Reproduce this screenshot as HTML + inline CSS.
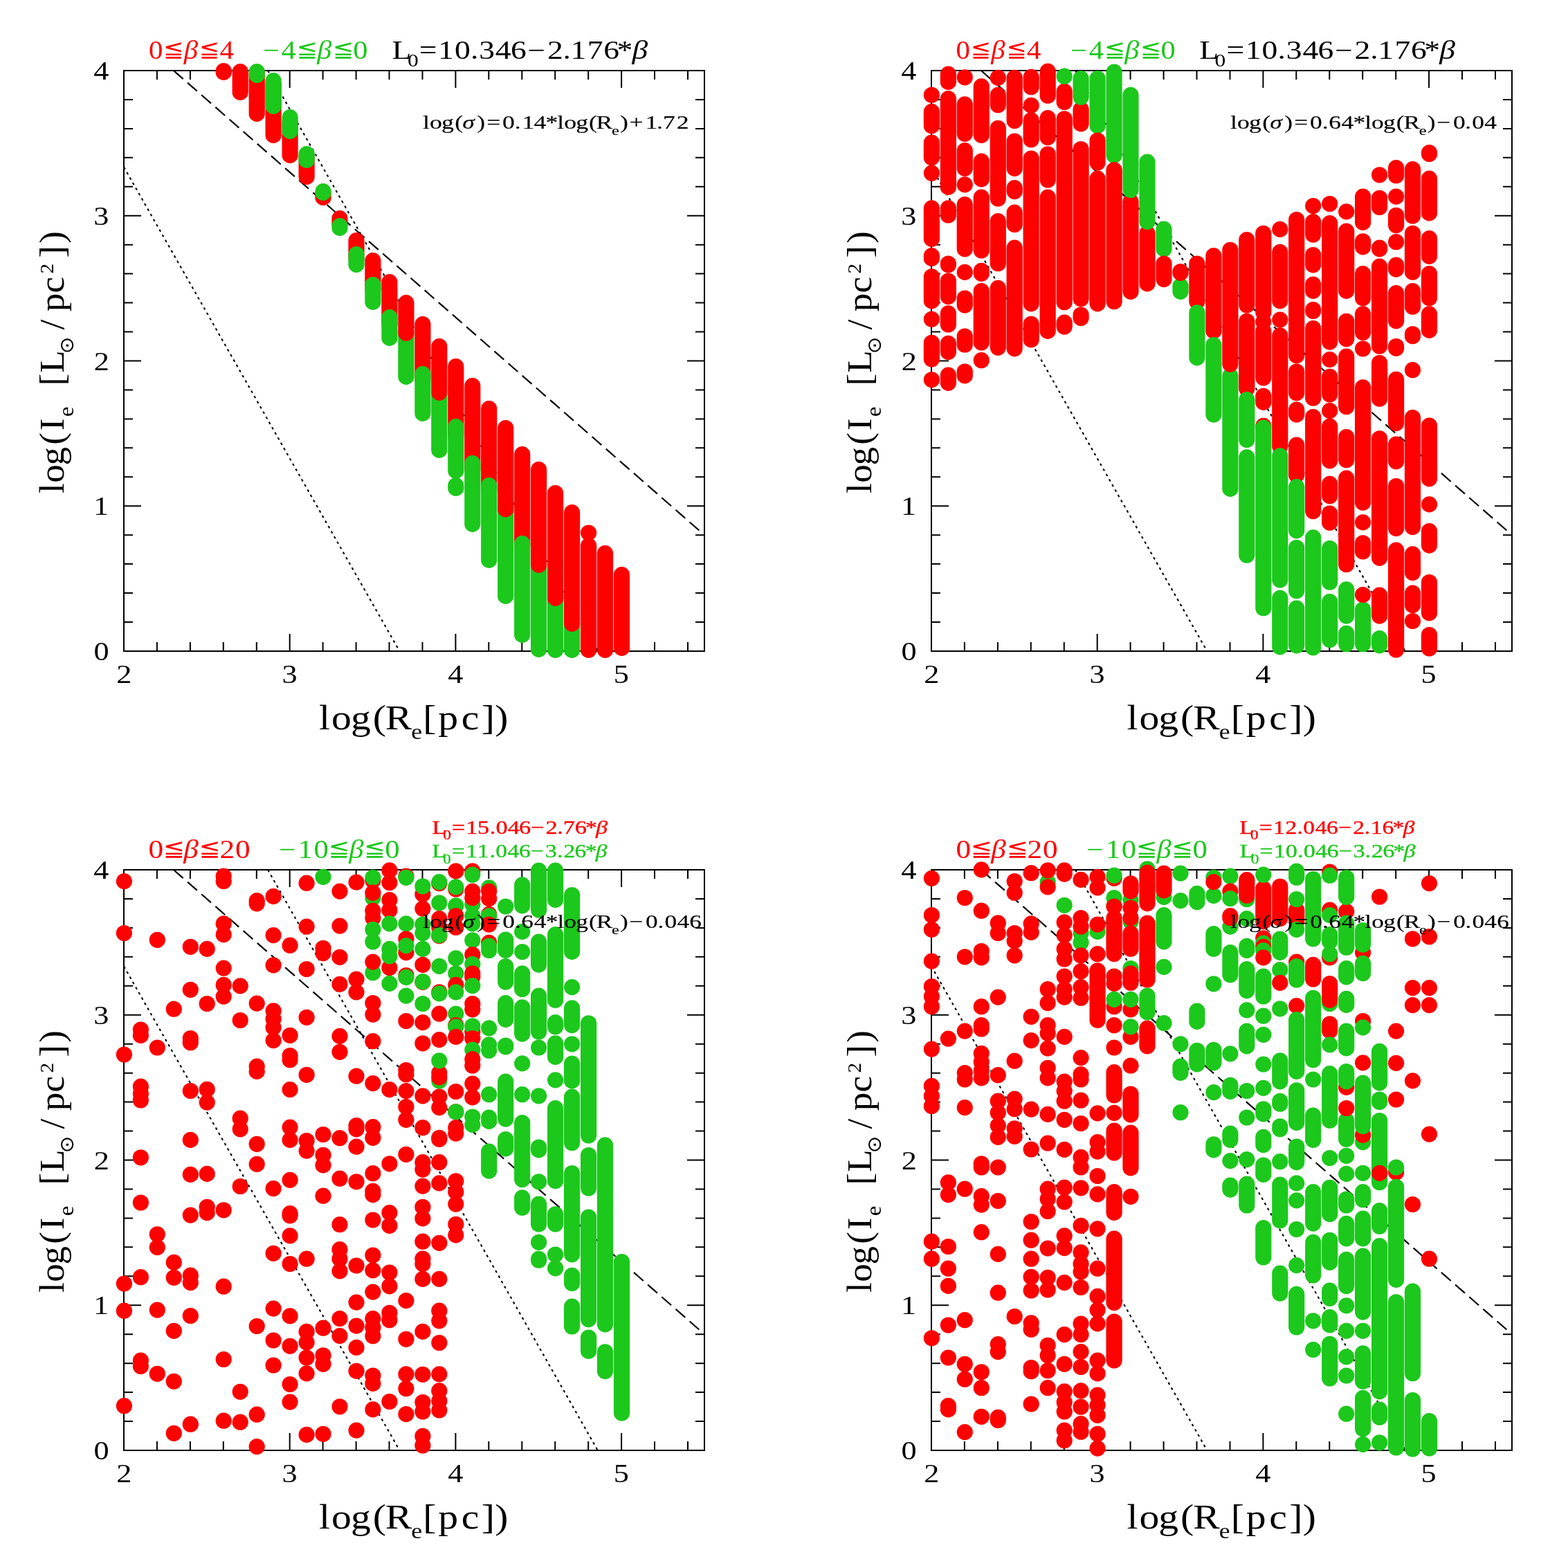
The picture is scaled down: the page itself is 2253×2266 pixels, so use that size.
<!DOCTYPE html>
<html><head><meta charset="utf-8"><title>log(Ie) vs log(Re)</title>
<style>html,body{margin:0;padding:0;background:#fff}svg{display:block}</style></head>
<body>
<svg width="2253" height="2266" viewBox="0 0 2253 2266" font-family="'Liberation Serif', serif" fill="#000">
<rect width="2253" height="2266" fill="#fff"/>
<rect x="179" y="102" width="839" height="839" fill="none" stroke="#000" stroke-width="2"/>
<path d="M179.0 941v-25M179.0 102v25M226.9 941v-13M226.9 102v13M274.9 941v-13M274.9 102v13M322.8 941v-13M322.8 102v13M370.8 941v-13M370.8 102v13M418.7 941v-25M418.7 102v25M466.6 941v-13M466.6 102v13M514.6 941v-13M514.6 102v13M562.5 941v-13M562.5 102v13M610.5 941v-13M610.5 102v13M658.4 941v-25M658.4 102v25M706.3 941v-13M706.3 102v13M754.3 941v-13M754.3 102v13M802.2 941v-13M802.2 102v13M850.2 941v-13M850.2 102v13M898.1 941v-25M898.1 102v25M946.0 941v-13M946.0 102v13M994.0 941v-13M994.0 102v13M179 941.0h25M1018 941.0h-25M179 899.0h13M1018 899.0h-13M179 857.1h13M1018 857.1h-13M179 815.1h13M1018 815.1h-13M179 773.2h13M1018 773.2h-13M179 731.2h25M1018 731.2h-25M179 689.3h13M1018 689.3h-13M179 647.3h13M1018 647.3h-13M179 605.4h13M1018 605.4h-13M179 563.5h13M1018 563.5h-13M179 521.5h25M1018 521.5h-25M179 479.5h13M1018 479.5h-13M179 437.6h13M1018 437.6h-13M179 395.6h13M1018 395.6h-13M179 353.7h13M1018 353.7h-13M179 311.8h25M1018 311.8h-25M179 269.8h13M1018 269.8h-13M179 227.8h13M1018 227.8h-13M179 185.9h13M1018 185.9h-13M179 143.9h13M1018 143.9h-13M179 102.0h25M1018 102.0h-25" fill="none" stroke="#000" stroke-width="2"/>
<text transform="translate(0.0,987.1) scale(1.150,1)" font-size="38.5" x="146.2" y="0.0">2</text>
<text transform="translate(0.0,987.1) scale(1.150,1)" font-size="38.5" x="354.3" y="0.0">3</text>
<text transform="translate(0.0,987.1) scale(1.150,1)" font-size="38.5" x="562.8" y="0.0">4</text>
<text transform="translate(0.0,987.1) scale(1.150,1)" font-size="38.5" x="771.0" y="0.0">5</text>
<text transform="translate(0.0,954.1) scale(1.150,1)" font-size="38.5" x="117.8" y="0.0">0</text>
<text transform="translate(0.0,744.4) scale(1.150,1)" font-size="38.5" x="117.3" y="0.0">1</text>
<text transform="translate(0.0,534.6) scale(1.150,1)" font-size="38.5" x="118.0" y="0.0">2</text>
<text transform="translate(0.0,324.9) scale(1.150,1)" font-size="38.5" x="117.6" y="0.0">3</text>
<text transform="translate(0.0,115.1) scale(1.150,1)" font-size="38.5" x="117.7" y="0.0">4</text>
<line x1="250.9" y1="102.0" x2="1010.8" y2="766.9" stroke="#000" stroke-width="2.2" stroke-dasharray="18.3 8.48"/>
<line x1="179.0" y1="241.5" x2="577.4" y2="941.0" stroke="#000" stroke-width="2.1" stroke-dasharray="3.6 5.05"/>
<line x1="387.1" y1="102.0" x2="863.8" y2="941.0" stroke="#000" stroke-width="2.1" stroke-dasharray="3.6 5.05"/>
<line x1="323.2" y1="102.6" x2="323.2" y2="104.4" stroke="#ff0000" stroke-width="23.2" stroke-linecap="round"/>
<line x1="347.2" y1="103.6" x2="347.2" y2="133.4" stroke="#ff0000" stroke-width="23.2" stroke-linecap="round"/>
<line x1="371.2" y1="106.6" x2="371.2" y2="164.4" stroke="#ff0000" stroke-width="23.2" stroke-linecap="round"/>
<line x1="371.2" y1="103.6" x2="371.2" y2="108.4" stroke="#1cc81c" stroke-width="23.2" stroke-linecap="round"/>
<line x1="395.1" y1="121.6" x2="395.1" y2="195.4" stroke="#ff0000" stroke-width="23.2" stroke-linecap="round"/>
<line x1="395.1" y1="116.6" x2="395.1" y2="153.4" stroke="#1cc81c" stroke-width="23.2" stroke-linecap="round"/>
<line x1="419.1" y1="176.6" x2="419.1" y2="224.4" stroke="#ff0000" stroke-width="23.2" stroke-linecap="round"/>
<line x1="419.1" y1="169.6" x2="419.1" y2="189.4" stroke="#1cc81c" stroke-width="23.2" stroke-linecap="round"/>
<line x1="443.1" y1="226.6" x2="443.1" y2="255.4" stroke="#ff0000" stroke-width="23.2" stroke-linecap="round"/>
<line x1="443.1" y1="222.6" x2="443.1" y2="231.4" stroke="#1cc81c" stroke-width="23.2" stroke-linecap="round"/>
<line x1="467.0" y1="279.6" x2="467.0" y2="285.4" stroke="#ff0000" stroke-width="23.2" stroke-linecap="round"/>
<line x1="467.0" y1="276.6" x2="467.0" y2="278.4" stroke="#1cc81c" stroke-width="23.2" stroke-linecap="round"/>
<line x1="491.0" y1="315.6" x2="491.0" y2="323.4" stroke="#ff0000" stroke-width="23.2" stroke-linecap="round"/>
<line x1="491.0" y1="326.6" x2="491.0" y2="329.4" stroke="#1cc81c" stroke-width="23.2" stroke-linecap="round"/>
<line x1="515.0" y1="347.6" x2="515.0" y2="373.4" stroke="#ff0000" stroke-width="23.2" stroke-linecap="round"/>
<line x1="515.0" y1="367.6" x2="515.0" y2="382.4" stroke="#1cc81c" stroke-width="23.2" stroke-linecap="round"/>
<line x1="538.9" y1="376.6" x2="538.9" y2="418.4" stroke="#ff0000" stroke-width="23.2" stroke-linecap="round"/>
<line x1="538.9" y1="411.6" x2="538.9" y2="436.4" stroke="#1cc81c" stroke-width="23.2" stroke-linecap="round"/>
<line x1="562.9" y1="407.6" x2="562.9" y2="468.4" stroke="#ff0000" stroke-width="23.2" stroke-linecap="round"/>
<line x1="562.9" y1="458.6" x2="562.9" y2="488.4" stroke="#1cc81c" stroke-width="23.2" stroke-linecap="round"/>
<line x1="586.9" y1="481.6" x2="586.9" y2="544.4" stroke="#1cc81c" stroke-width="23.2" stroke-linecap="round"/>
<line x1="586.9" y1="437.6" x2="586.9" y2="481.4" stroke="#ff0000" stroke-width="23.2" stroke-linecap="round"/>
<line x1="610.9" y1="468.6" x2="610.9" y2="548.4" stroke="#ff0000" stroke-width="23.2" stroke-linecap="round"/>
<line x1="610.9" y1="540.6" x2="610.9" y2="597.4" stroke="#1cc81c" stroke-width="23.2" stroke-linecap="round"/>
<line x1="634.8" y1="571.6" x2="634.8" y2="650.4" stroke="#1cc81c" stroke-width="23.2" stroke-linecap="round"/>
<line x1="634.8" y1="500.6" x2="634.8" y2="567.4" stroke="#ff0000" stroke-width="23.2" stroke-linecap="round"/>
<line x1="658.8" y1="529.6" x2="658.8" y2="628.4" stroke="#ff0000" stroke-width="23.2" stroke-linecap="round"/>
<line x1="658.8" y1="616.6" x2="658.8" y2="680.4" stroke="#1cc81c" stroke-width="23.2" stroke-linecap="round"/>
<line x1="658.8" y1="701.6" x2="658.8" y2="705.4" stroke="#1cc81c" stroke-width="23.2" stroke-linecap="round"/>
<line x1="682.8" y1="557.6" x2="682.8" y2="678.4" stroke="#ff0000" stroke-width="23.2" stroke-linecap="round"/>
<line x1="682.8" y1="669.6" x2="682.8" y2="757.4" stroke="#1cc81c" stroke-width="23.2" stroke-linecap="round"/>
<line x1="706.7" y1="590.6" x2="706.7" y2="708.4" stroke="#ff0000" stroke-width="23.2" stroke-linecap="round"/>
<line x1="706.7" y1="701.6" x2="706.7" y2="809.4" stroke="#1cc81c" stroke-width="23.2" stroke-linecap="round"/>
<line x1="730.7" y1="731.6" x2="730.7" y2="861.4" stroke="#1cc81c" stroke-width="23.2" stroke-linecap="round"/>
<line x1="730.7" y1="618.6" x2="730.7" y2="735.9" stroke="#ff0000" stroke-width="23.2" stroke-linecap="round"/>
<line x1="754.7" y1="656.6" x2="754.7" y2="788.4" stroke="#ff0000" stroke-width="23.2" stroke-linecap="round"/>
<line x1="754.7" y1="785.6" x2="754.7" y2="917.4" stroke="#1cc81c" stroke-width="23.2" stroke-linecap="round"/>
<line x1="778.6" y1="811.6" x2="778.6" y2="938.4" stroke="#1cc81c" stroke-width="23.2" stroke-linecap="round"/>
<line x1="778.6" y1="678.6" x2="778.6" y2="816.4" stroke="#ff0000" stroke-width="23.2" stroke-linecap="round"/>
<line x1="802.6" y1="861.6" x2="802.6" y2="939.4" stroke="#1cc81c" stroke-width="23.2" stroke-linecap="round"/>
<line x1="802.6" y1="712.6" x2="802.6" y2="864.4" stroke="#ff0000" stroke-width="23.2" stroke-linecap="round"/>
<line x1="826.6" y1="901.6" x2="826.6" y2="939.4" stroke="#1cc81c" stroke-width="23.2" stroke-linecap="round"/>
<line x1="826.6" y1="740.6" x2="826.6" y2="901.4" stroke="#ff0000" stroke-width="23.2" stroke-linecap="round"/>
<circle cx="850.6" cy="770.0" r="11.6" fill="#ff0000"/>
<line x1="850.6" y1="788.6" x2="850.6" y2="939.4" stroke="#ff0000" stroke-width="23.2" stroke-linecap="round"/>
<line x1="874.5" y1="799.6" x2="874.5" y2="939.4" stroke="#ff0000" stroke-width="23.2" stroke-linecap="round"/>
<line x1="898.5" y1="830.6" x2="898.5" y2="936.4" stroke="#ff0000" stroke-width="23.2" stroke-linecap="round"/>
<text transform="translate(0.0,1053.5) scale(1.154,1)" font-size="50" x="399.4 415.0 439.3 466.8 482.4 514.9 529.7 548.7 577.8 602.9 619.9" y="0.0 0.0 0.0 0.0 0.0 14.0 0.0 0.0 0.0 0.0 0.0">log(R<tspan font-size="31.0">e</tspan>[pc])</text>
<text transform="translate(92.4,711.3) rotate(-90) scale(1.060,1)" font-size="50" x="-1.6 12.9 36.7 64.6 84.0 102.9 145.1 162.8 188.6 221.6 246.4 271.5 298.0 319.4 339.2" y="0.0 0.0 0.0 0.0 0.0 13.8 0.0 0.0 13.8 0.0 0.0 0.0 -15.1 0.0 0.0">log(I<tspan font-size="31.0">e</tspan>[L<tspan font-family="'DejaVu Sans', sans-serif" font-size="27.9">⊙</tspan>/pc<tspan font-size="27.7">2</tspan>])</text>
<rect x="1346" y="102" width="839" height="839" fill="none" stroke="#000" stroke-width="2"/>
<path d="M1346.0 941v-25M1346.0 102v25M1393.9 941v-13M1393.9 102v13M1441.9 941v-13M1441.9 102v13M1489.8 941v-13M1489.8 102v13M1537.8 941v-13M1537.8 102v13M1585.7 941v-25M1585.7 102v25M1633.6 941v-13M1633.6 102v13M1681.6 941v-13M1681.6 102v13M1729.5 941v-13M1729.5 102v13M1777.5 941v-13M1777.5 102v13M1825.4 941v-25M1825.4 102v25M1873.3 941v-13M1873.3 102v13M1921.3 941v-13M1921.3 102v13M1969.2 941v-13M1969.2 102v13M2017.2 941v-13M2017.2 102v13M2065.1 941v-25M2065.1 102v25M2113.0 941v-13M2113.0 102v13M2161.0 941v-13M2161.0 102v13M1346 941.0h25M2185 941.0h-25M1346 899.0h13M2185 899.0h-13M1346 857.1h13M2185 857.1h-13M1346 815.1h13M2185 815.1h-13M1346 773.2h13M2185 773.2h-13M1346 731.2h25M2185 731.2h-25M1346 689.3h13M2185 689.3h-13M1346 647.3h13M2185 647.3h-13M1346 605.4h13M2185 605.4h-13M1346 563.5h13M2185 563.5h-13M1346 521.5h25M2185 521.5h-25M1346 479.5h13M2185 479.5h-13M1346 437.6h13M2185 437.6h-13M1346 395.6h13M2185 395.6h-13M1346 353.7h13M2185 353.7h-13M1346 311.8h25M2185 311.8h-25M1346 269.8h13M2185 269.8h-13M1346 227.8h13M2185 227.8h-13M1346 185.9h13M2185 185.9h-13M1346 143.9h13M2185 143.9h-13M1346 102.0h25M2185 102.0h-25" fill="none" stroke="#000" stroke-width="2"/>
<text transform="translate(0.0,987.1) scale(1.150,1)" font-size="38.5" x="1161.0" y="0.0">2</text>
<text transform="translate(0.0,987.1) scale(1.150,1)" font-size="38.5" x="1369.1" y="0.0">3</text>
<text transform="translate(0.0,987.1) scale(1.150,1)" font-size="38.5" x="1577.6" y="0.0">4</text>
<text transform="translate(0.0,987.1) scale(1.150,1)" font-size="38.5" x="1785.7" y="0.0">5</text>
<text transform="translate(0.0,954.1) scale(1.150,1)" font-size="38.5" x="1132.6" y="0.0">0</text>
<text transform="translate(0.0,744.4) scale(1.150,1)" font-size="38.5" x="1132.1" y="0.0">1</text>
<text transform="translate(0.0,534.6) scale(1.150,1)" font-size="38.5" x="1132.8" y="0.0">2</text>
<text transform="translate(0.0,324.9) scale(1.150,1)" font-size="38.5" x="1132.4" y="0.0">3</text>
<text transform="translate(0.0,115.1) scale(1.150,1)" font-size="38.5" x="1132.5" y="0.0">4</text>
<line x1="1417.9" y1="102.0" x2="2177.8" y2="766.9" stroke="#000" stroke-width="2.2" stroke-dasharray="18.3 8.48"/>
<line x1="1346.0" y1="241.5" x2="1744.4" y2="941.0" stroke="#000" stroke-width="2.1" stroke-dasharray="3.6 5.05"/>
<line x1="1554.1" y1="102.0" x2="2030.8" y2="941.0" stroke="#000" stroke-width="2.1" stroke-dasharray="3.6 5.05"/>
<circle cx="1346.4" cy="137.3" r="11.6" fill="#ff0000"/>
<line x1="1346.4" y1="161.4" x2="1346.4" y2="181.9" stroke="#ff0000" stroke-width="23.2" stroke-linecap="round"/>
<line x1="1346.4" y1="206.1" x2="1346.4" y2="227.7" stroke="#ff0000" stroke-width="23.2" stroke-linecap="round"/>
<circle cx="1346.4" cy="250.2" r="11.6" fill="#ff0000"/>
<line x1="1346.4" y1="300.9" x2="1346.4" y2="345.3" stroke="#ff0000" stroke-width="23.2" stroke-linecap="round"/>
<line x1="1346.4" y1="369.6" x2="1346.4" y2="373.4" stroke="#ff0000" stroke-width="23.2" stroke-linecap="round"/>
<line x1="1346.4" y1="399.8" x2="1346.4" y2="434.9" stroke="#ff0000" stroke-width="23.2" stroke-linecap="round"/>
<circle cx="1346.4" cy="461.3" r="11.6" fill="#ff0000"/>
<line x1="1346.4" y1="495.3" x2="1346.4" y2="519.0" stroke="#ff0000" stroke-width="23.2" stroke-linecap="round"/>
<circle cx="1346.4" cy="548.8" r="11.6" fill="#ff0000"/>
<line x1="1370.4" y1="107.2" x2="1370.4" y2="118.4" stroke="#ff0000" stroke-width="23.2" stroke-linecap="round"/>
<line x1="1370.4" y1="142.6" x2="1370.4" y2="270.4" stroke="#ff0000" stroke-width="23.2" stroke-linecap="round"/>
<line x1="1370.4" y1="300.9" x2="1370.4" y2="311.0" stroke="#ff0000" stroke-width="23.2" stroke-linecap="round"/>
<line x1="1370.4" y1="381.0" x2="1370.4" y2="382.8" stroke="#ff0000" stroke-width="23.2" stroke-linecap="round"/>
<line x1="1370.4" y1="406.0" x2="1370.4" y2="428.6" stroke="#ff0000" stroke-width="23.2" stroke-linecap="round"/>
<line x1="1370.4" y1="452.9" x2="1370.4" y2="469.0" stroke="#ff0000" stroke-width="23.2" stroke-linecap="round"/>
<line x1="1370.4" y1="496.4" x2="1370.4" y2="508.6" stroke="#ff0000" stroke-width="23.2" stroke-linecap="round"/>
<line x1="1370.4" y1="542.2" x2="1370.4" y2="553.3" stroke="#ff0000" stroke-width="23.2" stroke-linecap="round"/>
<circle cx="1394.3" cy="111.8" r="11.6" fill="#ff0000"/>
<line x1="1394.3" y1="150.9" x2="1394.3" y2="193.3" stroke="#ff0000" stroke-width="23.2" stroke-linecap="round"/>
<line x1="1394.3" y1="217.6" x2="1394.3" y2="243.3" stroke="#ff0000" stroke-width="23.2" stroke-linecap="round"/>
<circle cx="1394.3" cy="266.9" r="11.6" fill="#ff0000"/>
<line x1="1394.3" y1="295.7" x2="1394.3" y2="359.9" stroke="#ff0000" stroke-width="23.2" stroke-linecap="round"/>
<circle cx="1394.3" cy="393.4" r="11.6" fill="#ff0000"/>
<line x1="1394.3" y1="431.0" x2="1394.3" y2="441.1" stroke="#ff0000" stroke-width="23.2" stroke-linecap="round"/>
<line x1="1394.3" y1="486.0" x2="1394.3" y2="498.2" stroke="#ff0000" stroke-width="23.2" stroke-linecap="round"/>
<line x1="1394.3" y1="537.0" x2="1394.3" y2="542.9" stroke="#ff0000" stroke-width="23.2" stroke-linecap="round"/>
<line x1="1418.3" y1="124.9" x2="1418.3" y2="195.4" stroke="#ff0000" stroke-width="23.2" stroke-linecap="round"/>
<line x1="1418.3" y1="233.2" x2="1418.3" y2="258.9" stroke="#ff0000" stroke-width="23.2" stroke-linecap="round"/>
<line x1="1418.3" y1="285.2" x2="1418.3" y2="362.0" stroke="#ff0000" stroke-width="23.2" stroke-linecap="round"/>
<line x1="1418.3" y1="391.4" x2="1418.3" y2="395.3" stroke="#ff0000" stroke-width="23.2" stroke-linecap="round"/>
<line x1="1418.3" y1="420.6" x2="1418.3" y2="495.0" stroke="#ff0000" stroke-width="23.2" stroke-linecap="round"/>
<circle cx="1418.3" cy="520.7" r="11.6" fill="#ff0000"/>
<circle cx="1442.3" cy="112.3" r="11.6" fill="#ff0000"/>
<line x1="1442.3" y1="137.4" x2="1442.3" y2="151.7" stroke="#ff0000" stroke-width="23.2" stroke-linecap="round"/>
<line x1="1442.3" y1="185.3" x2="1442.3" y2="287.0" stroke="#ff0000" stroke-width="23.2" stroke-linecap="round"/>
<line x1="1442.3" y1="319.6" x2="1442.3" y2="380.7" stroke="#ff0000" stroke-width="23.2" stroke-linecap="round"/>
<line x1="1442.3" y1="416.4" x2="1442.3" y2="502.3" stroke="#ff0000" stroke-width="23.2" stroke-linecap="round"/>
<line x1="1466.2" y1="112.4" x2="1466.2" y2="174.6" stroke="#ff0000" stroke-width="23.2" stroke-linecap="round"/>
<line x1="1466.2" y1="204.0" x2="1466.2" y2="243.3" stroke="#ff0000" stroke-width="23.2" stroke-linecap="round"/>
<line x1="1466.2" y1="271.7" x2="1466.2" y2="276.6" stroke="#ff0000" stroke-width="23.2" stroke-linecap="round"/>
<line x1="1466.2" y1="307.1" x2="1466.2" y2="324.5" stroke="#ff0000" stroke-width="23.2" stroke-linecap="round"/>
<line x1="1466.2" y1="358.1" x2="1466.2" y2="503.8" stroke="#ff0000" stroke-width="23.2" stroke-linecap="round"/>
<line x1="1490.2" y1="111.4" x2="1490.2" y2="125.7" stroke="#ff0000" stroke-width="23.2" stroke-linecap="round"/>
<circle cx="1490.2" cy="152.4" r="11.6" fill="#ff0000"/>
<line x1="1490.2" y1="173.8" x2="1490.2" y2="201.7" stroke="#ff0000" stroke-width="23.2" stroke-linecap="round"/>
<line x1="1490.2" y1="229.0" x2="1490.2" y2="438.8" stroke="#ff0000" stroke-width="23.2" stroke-linecap="round"/>
<line x1="1490.2" y1="468.3" x2="1490.2" y2="490.9" stroke="#ff0000" stroke-width="23.2" stroke-linecap="round"/>
<line x1="1514.2" y1="103.1" x2="1514.2" y2="138.2" stroke="#ff0000" stroke-width="23.2" stroke-linecap="round"/>
<line x1="1514.2" y1="170.7" x2="1514.2" y2="198.5" stroke="#ff0000" stroke-width="23.2" stroke-linecap="round"/>
<line x1="1514.2" y1="222.8" x2="1514.2" y2="260.0" stroke="#ff0000" stroke-width="23.2" stroke-linecap="round"/>
<line x1="1514.2" y1="285.2" x2="1514.2" y2="478.4" stroke="#ff0000" stroke-width="23.2" stroke-linecap="round"/>
<line x1="1538.2" y1="132.2" x2="1538.2" y2="147.5" stroke="#ff0000" stroke-width="23.2" stroke-linecap="round"/>
<circle cx="1538.2" cy="110.2" r="11.6" fill="#1cc81c"/>
<line x1="1538.2" y1="171.8" x2="1538.2" y2="436.7" stroke="#ff0000" stroke-width="23.2" stroke-linecap="round"/>
<line x1="1538.2" y1="466.2" x2="1538.2" y2="472.1" stroke="#ff0000" stroke-width="23.2" stroke-linecap="round"/>
<line x1="1562.1" y1="158.2" x2="1562.1" y2="178.8" stroke="#ff0000" stroke-width="23.2" stroke-linecap="round"/>
<line x1="1562.1" y1="113.5" x2="1562.1" y2="140.2" stroke="#1cc81c" stroke-width="23.2" stroke-linecap="round"/>
<line x1="1562.1" y1="215.5" x2="1562.1" y2="431.8" stroke="#ff0000" stroke-width="23.2" stroke-linecap="round"/>
<line x1="1562.1" y1="455.0" x2="1562.1" y2="459.6" stroke="#ff0000" stroke-width="23.2" stroke-linecap="round"/>
<line x1="1586.1" y1="113.5" x2="1586.1" y2="181.9" stroke="#1cc81c" stroke-width="23.2" stroke-linecap="round"/>
<line x1="1586.1" y1="203.0" x2="1586.1" y2="235.0" stroke="#ff0000" stroke-width="23.2" stroke-linecap="round"/>
<line x1="1586.1" y1="258.2" x2="1586.1" y2="438.8" stroke="#ff0000" stroke-width="23.2" stroke-linecap="round"/>
<line x1="1610.1" y1="104.1" x2="1610.1" y2="224.6" stroke="#1cc81c" stroke-width="23.2" stroke-linecap="round"/>
<line x1="1610.1" y1="245.7" x2="1610.1" y2="435.7" stroke="#ff0000" stroke-width="23.2" stroke-linecap="round"/>
<line x1="1634.0" y1="291.5" x2="1634.0" y2="421.3" stroke="#ff0000" stroke-width="23.2" stroke-linecap="round"/>
<line x1="1634.0" y1="137.4" x2="1634.0" y2="274.5" stroke="#1cc81c" stroke-width="23.2" stroke-linecap="round"/>
<line x1="1658.0" y1="337.3" x2="1658.0" y2="409.9" stroke="#ff0000" stroke-width="23.2" stroke-linecap="round"/>
<line x1="1658.0" y1="234.2" x2="1658.0" y2="320.4" stroke="#1cc81c" stroke-width="23.2" stroke-linecap="round"/>
<line x1="1682.0" y1="331.1" x2="1682.0" y2="359.9" stroke="#1cc81c" stroke-width="23.2" stroke-linecap="round"/>
<line x1="1682.0" y1="381.0" x2="1682.0" y2="403.6" stroke="#ff0000" stroke-width="23.2" stroke-linecap="round"/>
<line x1="1706.0" y1="413.3" x2="1706.0" y2="421.3" stroke="#1cc81c" stroke-width="23.2" stroke-linecap="round"/>
<line x1="1706.0" y1="392.5" x2="1706.0" y2="394.3" stroke="#ff0000" stroke-width="23.2" stroke-linecap="round"/>
<line x1="1729.9" y1="381.0" x2="1729.9" y2="435.9" stroke="#ff0000" stroke-width="23.2" stroke-linecap="round"/>
<line x1="1729.9" y1="451.8" x2="1729.9" y2="516.9" stroke="#1cc81c" stroke-width="23.2" stroke-linecap="round"/>
<line x1="1753.9" y1="369.6" x2="1753.9" y2="478.4" stroke="#ff0000" stroke-width="23.2" stroke-linecap="round"/>
<line x1="1753.9" y1="498.5" x2="1753.9" y2="599.1" stroke="#1cc81c" stroke-width="23.2" stroke-linecap="round"/>
<line x1="1777.9" y1="543.2" x2="1777.9" y2="706.4" stroke="#1cc81c" stroke-width="23.2" stroke-linecap="round"/>
<line x1="1777.9" y1="361.3" x2="1777.9" y2="526.3" stroke="#ff0000" stroke-width="23.2" stroke-linecap="round"/>
<line x1="1801.8" y1="346.7" x2="1801.8" y2="441.1" stroke="#ff0000" stroke-width="23.2" stroke-linecap="round"/>
<line x1="1801.8" y1="464.3" x2="1801.8" y2="561.7" stroke="#ff0000" stroke-width="23.2" stroke-linecap="round"/>
<line x1="1801.8" y1="577.6" x2="1801.8" y2="635.6" stroke="#1cc81c" stroke-width="23.2" stroke-linecap="round"/>
<line x1="1801.8" y1="660.9" x2="1801.8" y2="802.2" stroke="#1cc81c" stroke-width="23.2" stroke-linecap="round"/>
<line x1="1825.8" y1="337.3" x2="1825.8" y2="451.5" stroke="#ff0000" stroke-width="23.2" stroke-linecap="round"/>
<circle cx="1825.8" cy="465.1" r="11.6" fill="#ff0000"/>
<line x1="1825.8" y1="478.7" x2="1825.8" y2="546.0" stroke="#ff0000" stroke-width="23.2" stroke-linecap="round"/>
<line x1="1825.8" y1="572.4" x2="1825.8" y2="581.4" stroke="#ff0000" stroke-width="23.2" stroke-linecap="round"/>
<circle cx="1825.8" cy="615.4" r="11.6" fill="#ff0000"/>
<line x1="1825.8" y1="618.2" x2="1825.8" y2="878.7" stroke="#1cc81c" stroke-width="23.2" stroke-linecap="round"/>
<circle cx="1849.8" cy="331.4" r="11.6" fill="#ff0000"/>
<line x1="1849.8" y1="364.4" x2="1849.8" y2="434.9" stroke="#ff0000" stroke-width="23.2" stroke-linecap="round"/>
<circle cx="1849.8" cy="462.1" r="11.6" fill="#ff0000"/>
<line x1="1849.8" y1="484.9" x2="1849.8" y2="645.0" stroke="#ff0000" stroke-width="23.2" stroke-linecap="round"/>
<line x1="1849.8" y1="658.8" x2="1849.8" y2="838.1" stroke="#1cc81c" stroke-width="23.2" stroke-linecap="round"/>
<line x1="1849.8" y1="864.4" x2="1849.8" y2="934.9" stroke="#1cc81c" stroke-width="23.2" stroke-linecap="round"/>
<line x1="1873.7" y1="317.5" x2="1873.7" y2="513.8" stroke="#ff0000" stroke-width="23.2" stroke-linecap="round"/>
<line x1="1873.7" y1="537.0" x2="1873.7" y2="567.9" stroke="#ff0000" stroke-width="23.2" stroke-linecap="round"/>
<line x1="1873.7" y1="592.2" x2="1873.7" y2="599.1" stroke="#ff0000" stroke-width="23.2" stroke-linecap="round"/>
<line x1="1873.7" y1="643.2" x2="1873.7" y2="686.6" stroke="#ff0000" stroke-width="23.2" stroke-linecap="round"/>
<line x1="1873.7" y1="703.6" x2="1873.7" y2="766.8" stroke="#1cc81c" stroke-width="23.2" stroke-linecap="round"/>
<line x1="1873.7" y1="791.5" x2="1873.7" y2="853.7" stroke="#1cc81c" stroke-width="23.2" stroke-linecap="round"/>
<line x1="1873.7" y1="879.0" x2="1873.7" y2="932.8" stroke="#1cc81c" stroke-width="23.2" stroke-linecap="round"/>
<circle cx="1897.7" cy="297.6" r="11.6" fill="#ff0000"/>
<line x1="1897.7" y1="320.6" x2="1897.7" y2="339.1" stroke="#ff0000" stroke-width="23.2" stroke-linecap="round"/>
<line x1="1897.7" y1="368.5" x2="1897.7" y2="382.8" stroke="#ff0000" stroke-width="23.2" stroke-linecap="round"/>
<line x1="1897.7" y1="411.2" x2="1897.7" y2="420.3" stroke="#ff0000" stroke-width="23.2" stroke-linecap="round"/>
<line x1="1897.7" y1="447.7" x2="1897.7" y2="449.5" stroke="#ff0000" stroke-width="23.2" stroke-linecap="round"/>
<line x1="1897.7" y1="474.7" x2="1897.7" y2="575.2" stroke="#ff0000" stroke-width="23.2" stroke-linecap="round"/>
<line x1="1897.7" y1="602.6" x2="1897.7" y2="738.7" stroke="#ff0000" stroke-width="23.2" stroke-linecap="round"/>
<line x1="1897.7" y1="776.9" x2="1897.7" y2="935.9" stroke="#1cc81c" stroke-width="23.2" stroke-linecap="round"/>
<circle cx="1921.7" cy="294.5" r="11.6" fill="#ff0000"/>
<line x1="1921.7" y1="322.7" x2="1921.7" y2="494.0" stroke="#ff0000" stroke-width="23.2" stroke-linecap="round"/>
<circle cx="1921.7" cy="519.6" r="11.6" fill="#ff0000"/>
<line x1="1921.7" y1="544.3" x2="1921.7" y2="570.0" stroke="#ff0000" stroke-width="23.2" stroke-linecap="round"/>
<circle cx="1921.7" cy="593.6" r="11.6" fill="#ff0000"/>
<line x1="1921.7" y1="616.1" x2="1921.7" y2="665.8" stroke="#ff0000" stroke-width="23.2" stroke-linecap="round"/>
<line x1="1921.7" y1="699.4" x2="1921.7" y2="716.8" stroke="#ff0000" stroke-width="23.2" stroke-linecap="round"/>
<line x1="1921.7" y1="742.1" x2="1921.7" y2="755.3" stroke="#ff0000" stroke-width="23.2" stroke-linecap="round"/>
<line x1="1921.7" y1="792.5" x2="1921.7" y2="841.2" stroke="#1cc81c" stroke-width="23.2" stroke-linecap="round"/>
<line x1="1921.7" y1="869.6" x2="1921.7" y2="924.5" stroke="#1cc81c" stroke-width="23.2" stroke-linecap="round"/>
<circle cx="1945.7" cy="305.9" r="11.6" fill="#ff0000"/>
<line x1="1945.7" y1="334.2" x2="1945.7" y2="420.3" stroke="#ff0000" stroke-width="23.2" stroke-linecap="round"/>
<line x1="1945.7" y1="464.3" x2="1945.7" y2="489.8" stroke="#ff0000" stroke-width="23.2" stroke-linecap="round"/>
<line x1="1945.7" y1="515.1" x2="1945.7" y2="587.7" stroke="#ff0000" stroke-width="23.2" stroke-linecap="round"/>
<line x1="1945.7" y1="631.7" x2="1945.7" y2="664.7" stroke="#ff0000" stroke-width="23.2" stroke-linecap="round"/>
<line x1="1945.7" y1="691.1" x2="1945.7" y2="815.7" stroke="#ff0000" stroke-width="23.2" stroke-linecap="round"/>
<line x1="1945.7" y1="851.9" x2="1945.7" y2="890.1" stroke="#1cc81c" stroke-width="23.2" stroke-linecap="round"/>
<line x1="1945.7" y1="915.4" x2="1945.7" y2="930.7" stroke="#1cc81c" stroke-width="23.2" stroke-linecap="round"/>
<line x1="1969.6" y1="284.2" x2="1969.6" y2="321.4" stroke="#ff0000" stroke-width="23.2" stroke-linecap="round"/>
<line x1="1969.6" y1="348.8" x2="1969.6" y2="356.8" stroke="#ff0000" stroke-width="23.2" stroke-linecap="round"/>
<line x1="1969.6" y1="395.6" x2="1969.6" y2="430.7" stroke="#ff0000" stroke-width="23.2" stroke-linecap="round"/>
<line x1="1969.6" y1="453.9" x2="1969.6" y2="480.5" stroke="#ff0000" stroke-width="23.2" stroke-linecap="round"/>
<circle cx="1969.6" cy="504.0" r="11.6" fill="#ff0000"/>
<line x1="1969.6" y1="559.9" x2="1969.6" y2="726.2" stroke="#ff0000" stroke-width="23.2" stroke-linecap="round"/>
<circle cx="1969.6" cy="754.9" r="11.6" fill="#ff0000"/>
<line x1="1969.6" y1="784.8" x2="1969.6" y2="797.0" stroke="#ff0000" stroke-width="23.2" stroke-linecap="round"/>
<line x1="1969.6" y1="881.0" x2="1969.6" y2="930.7" stroke="#1cc81c" stroke-width="23.2" stroke-linecap="round"/>
<circle cx="1969.6" cy="859.5" r="11.6" fill="#ff0000"/>
<circle cx="1993.6" cy="252.8" r="11.6" fill="#ff0000"/>
<line x1="1993.6" y1="286.3" x2="1993.6" y2="299.5" stroke="#ff0000" stroke-width="23.2" stroke-linecap="round"/>
<line x1="1993.6" y1="358.1" x2="1993.6" y2="359.9" stroke="#ff0000" stroke-width="23.2" stroke-linecap="round"/>
<line x1="1993.6" y1="385.2" x2="1993.6" y2="500.2" stroke="#ff0000" stroke-width="23.2" stroke-linecap="round"/>
<line x1="1993.6" y1="524.5" x2="1993.6" y2="576.2" stroke="#ff0000" stroke-width="23.2" stroke-linecap="round"/>
<line x1="1993.6" y1="633.8" x2="1993.6" y2="806.3" stroke="#ff0000" stroke-width="23.2" stroke-linecap="round"/>
<line x1="1993.6" y1="860.2" x2="1993.6" y2="890.1" stroke="#ff0000" stroke-width="23.2" stroke-linecap="round"/>
<line x1="1993.6" y1="922.7" x2="1993.6" y2="932.8" stroke="#1cc81c" stroke-width="23.2" stroke-linecap="round"/>
<line x1="2017.6" y1="242.6" x2="2017.6" y2="253.7" stroke="#ff0000" stroke-width="23.2" stroke-linecap="round"/>
<circle cx="2017.6" cy="284.1" r="11.6" fill="#ff0000"/>
<line x1="2017.6" y1="311.3" x2="2017.6" y2="325.6" stroke="#ff0000" stroke-width="23.2" stroke-linecap="round"/>
<circle cx="2017.6" cy="349.7" r="11.6" fill="#ff0000"/>
<line x1="2017.6" y1="383.1" x2="2017.6" y2="389.1" stroke="#ff0000" stroke-width="23.2" stroke-linecap="round"/>
<line x1="2017.6" y1="423.7" x2="2017.6" y2="463.8" stroke="#ff0000" stroke-width="23.2" stroke-linecap="round"/>
<line x1="2017.6" y1="500.5" x2="2017.6" y2="503.4" stroke="#ff0000" stroke-width="23.2" stroke-linecap="round"/>
<line x1="2017.6" y1="548.4" x2="2017.6" y2="611.6" stroke="#ff0000" stroke-width="23.2" stroke-linecap="round"/>
<line x1="2017.6" y1="642.1" x2="2017.6" y2="666.8" stroke="#ff0000" stroke-width="23.2" stroke-linecap="round"/>
<line x1="2017.6" y1="702.5" x2="2017.6" y2="763.6" stroke="#ff0000" stroke-width="23.2" stroke-linecap="round"/>
<line x1="2017.6" y1="795.2" x2="2017.6" y2="939.0" stroke="#ff0000" stroke-width="23.2" stroke-linecap="round"/>
<line x1="2041.5" y1="244.6" x2="2041.5" y2="312.0" stroke="#ff0000" stroke-width="23.2" stroke-linecap="round"/>
<line x1="2041.5" y1="337.3" x2="2041.5" y2="393.2" stroke="#ff0000" stroke-width="23.2" stroke-linecap="round"/>
<line x1="2041.5" y1="420.6" x2="2041.5" y2="443.2" stroke="#ff0000" stroke-width="23.2" stroke-linecap="round"/>
<line x1="2041.5" y1="482.8" x2="2041.5" y2="485.7" stroke="#ff0000" stroke-width="23.2" stroke-linecap="round"/>
<circle cx="2041.5" cy="534.7" r="11.6" fill="#ff0000"/>
<line x1="2041.5" y1="603.6" x2="2041.5" y2="761.6" stroke="#ff0000" stroke-width="23.2" stroke-linecap="round"/>
<line x1="2041.5" y1="800.9" x2="2041.5" y2="827.6" stroke="#ff0000" stroke-width="23.2" stroke-linecap="round"/>
<line x1="2041.5" y1="857.1" x2="2041.5" y2="874.5" stroke="#ff0000" stroke-width="23.2" stroke-linecap="round"/>
<circle cx="2041.5" cy="897.5" r="11.6" fill="#ff0000"/>
<line x1="2065.5" y1="220.7" x2="2065.5" y2="222.5" stroke="#ff0000" stroke-width="23.2" stroke-linecap="round"/>
<line x1="2065.5" y1="258.2" x2="2065.5" y2="307.9" stroke="#ff0000" stroke-width="23.2" stroke-linecap="round"/>
<line x1="2065.5" y1="344.6" x2="2065.5" y2="370.3" stroke="#ff0000" stroke-width="23.2" stroke-linecap="round"/>
<line x1="2065.5" y1="395.6" x2="2065.5" y2="430.7" stroke="#ff0000" stroke-width="23.2" stroke-linecap="round"/>
<line x1="2065.5" y1="453.9" x2="2065.5" y2="477.3" stroke="#ff0000" stroke-width="23.2" stroke-linecap="round"/>
<line x1="2065.5" y1="615.1" x2="2065.5" y2="691.8" stroke="#ff0000" stroke-width="23.2" stroke-linecap="round"/>
<circle cx="2065.5" cy="728.9" r="11.6" fill="#ff0000"/>
<line x1="2065.5" y1="767.6" x2="2065.5" y2="788.1" stroke="#ff0000" stroke-width="23.2" stroke-linecap="round"/>
<line x1="2065.5" y1="841.5" x2="2065.5" y2="885.9" stroke="#ff0000" stroke-width="23.2" stroke-linecap="round"/>
<line x1="2065.5" y1="917.5" x2="2065.5" y2="937.0" stroke="#ff0000" stroke-width="23.2" stroke-linecap="round"/>
<text transform="translate(0.0,1053.5) scale(1.154,1)" font-size="50" x="1411.1 1426.7 1450.9 1478.4 1494.1 1526.6 1541.4 1560.4 1589.5 1614.6 1631.6" y="0.0 0.0 0.0 0.0 0.0 14.0 0.0 0.0 0.0 0.0 0.0">log(R<tspan font-size="31.0">e</tspan>[pc])</text>
<text transform="translate(1259.4,711.3) rotate(-90) scale(1.060,1)" font-size="50" x="-1.6 12.9 36.7 64.6 84.0 102.9 145.1 162.8 188.6 221.6 246.4 271.5 298.0 319.4 339.2" y="0.0 0.0 0.0 0.0 0.0 13.8 0.0 0.0 13.8 0.0 0.0 0.0 -15.1 0.0 0.0">log(I<tspan font-size="31.0">e</tspan>[L<tspan font-family="'DejaVu Sans', sans-serif" font-size="27.9">⊙</tspan>/pc<tspan font-size="27.7">2</tspan>])</text>
<rect x="179" y="1257" width="839" height="839" fill="none" stroke="#000" stroke-width="2"/>
<path d="M179.0 2096v-25M179.0 1257v25M226.9 2096v-13M226.9 1257v13M274.9 2096v-13M274.9 1257v13M322.8 2096v-13M322.8 1257v13M370.8 2096v-13M370.8 1257v13M418.7 2096v-25M418.7 1257v25M466.6 2096v-13M466.6 1257v13M514.6 2096v-13M514.6 1257v13M562.5 2096v-13M562.5 1257v13M610.5 2096v-13M610.5 1257v13M658.4 2096v-25M658.4 1257v25M706.3 2096v-13M706.3 1257v13M754.3 2096v-13M754.3 1257v13M802.2 2096v-13M802.2 1257v13M850.2 2096v-13M850.2 1257v13M898.1 2096v-25M898.1 1257v25M946.0 2096v-13M946.0 1257v13M994.0 2096v-13M994.0 1257v13M179 2096.0h25M1018 2096.0h-25M179 2054.1h13M1018 2054.1h-13M179 2012.1h13M1018 2012.1h-13M179 1970.2h13M1018 1970.2h-13M179 1928.2h13M1018 1928.2h-13M179 1886.2h25M1018 1886.2h-25M179 1844.3h13M1018 1844.3h-13M179 1802.3h13M1018 1802.3h-13M179 1760.4h13M1018 1760.4h-13M179 1718.5h13M1018 1718.5h-13M179 1676.5h25M1018 1676.5h-25M179 1634.5h13M1018 1634.5h-13M179 1592.6h13M1018 1592.6h-13M179 1550.7h13M1018 1550.7h-13M179 1508.7h13M1018 1508.7h-13M179 1466.8h25M1018 1466.8h-25M179 1424.8h13M1018 1424.8h-13M179 1382.8h13M1018 1382.8h-13M179 1340.9h13M1018 1340.9h-13M179 1299.0h13M1018 1299.0h-13M179 1257.0h25M1018 1257.0h-25" fill="none" stroke="#000" stroke-width="2"/>
<text transform="translate(0.0,2142.1) scale(1.150,1)" font-size="38.5" x="146.2" y="0.0">2</text>
<text transform="translate(0.0,2142.1) scale(1.150,1)" font-size="38.5" x="354.3" y="0.0">3</text>
<text transform="translate(0.0,2142.1) scale(1.150,1)" font-size="38.5" x="562.8" y="0.0">4</text>
<text transform="translate(0.0,2142.1) scale(1.150,1)" font-size="38.5" x="771.0" y="0.0">5</text>
<text transform="translate(0.0,2109.1) scale(1.150,1)" font-size="38.5" x="117.8" y="0.0">0</text>
<text transform="translate(0.0,1899.3) scale(1.150,1)" font-size="38.5" x="117.3" y="0.0">1</text>
<text transform="translate(0.0,1689.6) scale(1.150,1)" font-size="38.5" x="118.0" y="0.0">2</text>
<text transform="translate(0.0,1479.8) scale(1.150,1)" font-size="38.5" x="117.6" y="0.0">3</text>
<text transform="translate(0.0,1270.1) scale(1.150,1)" font-size="38.5" x="117.7" y="0.0">4</text>
<line x1="250.9" y1="1257.0" x2="1010.8" y2="1921.9" stroke="#000" stroke-width="2.2" stroke-dasharray="18.3 8.48"/>
<line x1="179.0" y1="1396.5" x2="577.4" y2="2096.0" stroke="#000" stroke-width="2.1" stroke-dasharray="3.6 5.05"/>
<line x1="387.1" y1="1257.0" x2="863.8" y2="2096.0" stroke="#000" stroke-width="2.1" stroke-dasharray="3.6 5.05"/>
<circle cx="179.4" cy="1273.5" r="11.6" fill="#ff0000"/>
<circle cx="179.4" cy="1348.5" r="11.6" fill="#ff0000"/>
<circle cx="179.4" cy="1524.0" r="11.6" fill="#ff0000"/>
<circle cx="179.4" cy="1855.0" r="11.6" fill="#ff0000"/>
<circle cx="179.4" cy="1894.2" r="11.6" fill="#ff0000"/>
<circle cx="179.4" cy="2031.7" r="11.6" fill="#ff0000"/>
<circle cx="203.4" cy="1488.0" r="11.6" fill="#ff0000"/>
<circle cx="203.4" cy="1496.3" r="11.6" fill="#ff0000"/>
<circle cx="203.4" cy="1570.2" r="11.6" fill="#ff0000"/>
<circle cx="203.4" cy="1580.7" r="11.6" fill="#ff0000"/>
<circle cx="203.4" cy="1590.0" r="11.6" fill="#ff0000"/>
<circle cx="203.4" cy="1672.8" r="11.6" fill="#ff0000"/>
<circle cx="203.4" cy="1738.0" r="11.6" fill="#ff0000"/>
<circle cx="203.4" cy="1845.7" r="11.6" fill="#ff0000"/>
<circle cx="203.4" cy="1966.1" r="11.6" fill="#ff0000"/>
<circle cx="203.4" cy="1974.5" r="11.6" fill="#ff0000"/>
<circle cx="227.3" cy="1358.3" r="11.6" fill="#ff0000"/>
<circle cx="227.3" cy="1514.0" r="11.6" fill="#ff0000"/>
<circle cx="227.3" cy="1783.8" r="11.6" fill="#ff0000"/>
<circle cx="227.3" cy="1802.6" r="11.6" fill="#ff0000"/>
<circle cx="227.3" cy="1893.1" r="11.6" fill="#ff0000"/>
<circle cx="227.3" cy="1985.3" r="11.6" fill="#ff0000"/>
<circle cx="251.3" cy="1458.2" r="11.6" fill="#ff0000"/>
<circle cx="251.3" cy="1824.4" r="11.6" fill="#ff0000"/>
<circle cx="251.3" cy="1846.3" r="11.6" fill="#ff0000"/>
<circle cx="251.3" cy="1923.3" r="11.6" fill="#ff0000"/>
<circle cx="251.3" cy="1996.3" r="11.6" fill="#ff0000"/>
<circle cx="251.3" cy="2071.3" r="11.6" fill="#ff0000"/>
<circle cx="275.3" cy="1368.3" r="11.6" fill="#ff0000"/>
<circle cx="275.3" cy="1430.3" r="11.6" fill="#ff0000"/>
<circle cx="275.3" cy="1500.5" r="11.6" fill="#ff0000"/>
<circle cx="275.3" cy="1506.7" r="11.6" fill="#ff0000"/>
<circle cx="275.3" cy="1576.5" r="11.6" fill="#ff0000"/>
<circle cx="275.3" cy="1647.4" r="11.6" fill="#ff0000"/>
<circle cx="275.3" cy="1697.4" r="11.6" fill="#ff0000"/>
<circle cx="275.3" cy="1756.1" r="11.6" fill="#ff0000"/>
<circle cx="275.3" cy="1843.2" r="11.6" fill="#ff0000"/>
<circle cx="275.3" cy="1853.6" r="11.6" fill="#ff0000"/>
<circle cx="275.3" cy="1901.5" r="11.6" fill="#ff0000"/>
<circle cx="275.3" cy="2058.2" r="11.6" fill="#ff0000"/>
<circle cx="299.2" cy="1371.4" r="11.6" fill="#ff0000"/>
<circle cx="299.2" cy="1450.5" r="11.6" fill="#ff0000"/>
<circle cx="299.2" cy="1574.4" r="11.6" fill="#ff0000"/>
<circle cx="299.2" cy="1593.1" r="11.6" fill="#ff0000"/>
<circle cx="299.2" cy="1696.4" r="11.6" fill="#ff0000"/>
<circle cx="299.2" cy="1744.3" r="11.6" fill="#ff0000"/>
<circle cx="299.2" cy="1752.6" r="11.6" fill="#ff0000"/>
<circle cx="323.2" cy="1266.2" r="11.6" fill="#ff0000"/>
<circle cx="323.2" cy="1273.5" r="11.6" fill="#ff0000"/>
<circle cx="323.2" cy="1334.9" r="11.6" fill="#ff0000"/>
<circle cx="323.2" cy="1350.6" r="11.6" fill="#ff0000"/>
<circle cx="323.2" cy="1399.1" r="11.6" fill="#ff0000"/>
<circle cx="323.2" cy="1423.4" r="11.6" fill="#ff0000"/>
<circle cx="323.2" cy="1440.1" r="11.6" fill="#ff0000"/>
<circle cx="323.2" cy="1748.8" r="11.6" fill="#ff0000"/>
<circle cx="323.2" cy="1859.2" r="11.6" fill="#ff0000"/>
<circle cx="323.2" cy="1964.5" r="11.6" fill="#ff0000"/>
<circle cx="323.2" cy="2053.2" r="11.6" fill="#ff0000"/>
<circle cx="347.2" cy="1424.9" r="11.6" fill="#ff0000"/>
<circle cx="347.2" cy="1474.5" r="11.6" fill="#ff0000"/>
<circle cx="347.2" cy="1616.2" r="11.6" fill="#ff0000"/>
<circle cx="347.2" cy="1631.8" r="11.6" fill="#ff0000"/>
<circle cx="347.2" cy="1714.5" r="11.6" fill="#ff0000"/>
<circle cx="347.2" cy="2011.3" r="11.6" fill="#ff0000"/>
<circle cx="347.2" cy="2055.2" r="11.6" fill="#ff0000"/>
<circle cx="371.2" cy="1301.6" r="11.6" fill="#ff0000"/>
<circle cx="371.2" cy="1305.8" r="11.6" fill="#ff0000"/>
<circle cx="371.2" cy="1450.1" r="11.6" fill="#ff0000"/>
<circle cx="371.2" cy="1541.1" r="11.6" fill="#ff0000"/>
<circle cx="371.2" cy="1548.4" r="11.6" fill="#ff0000"/>
<circle cx="371.2" cy="1653.3" r="11.6" fill="#ff0000"/>
<circle cx="371.2" cy="1682.4" r="11.6" fill="#ff0000"/>
<circle cx="371.2" cy="1916.5" r="11.6" fill="#ff0000"/>
<circle cx="371.2" cy="2044.2" r="11.6" fill="#ff0000"/>
<circle cx="371.2" cy="2090.6" r="11.6" fill="#ff0000"/>
<circle cx="395.1" cy="1295.4" r="11.6" fill="#ff0000"/>
<circle cx="395.1" cy="1351.6" r="11.6" fill="#ff0000"/>
<circle cx="395.1" cy="1394.9" r="11.6" fill="#ff0000"/>
<circle cx="395.1" cy="1460.9" r="11.6" fill="#ff0000"/>
<circle cx="395.1" cy="1472.4" r="11.6" fill="#ff0000"/>
<circle cx="395.1" cy="1484.9" r="11.6" fill="#ff0000"/>
<circle cx="395.1" cy="1503.6" r="11.6" fill="#ff0000"/>
<circle cx="395.1" cy="1717.6" r="11.6" fill="#ff0000"/>
<circle cx="395.1" cy="1811.3" r="11.6" fill="#ff0000"/>
<circle cx="395.1" cy="1891.1" r="11.6" fill="#ff0000"/>
<circle cx="395.1" cy="1937.0" r="11.6" fill="#ff0000"/>
<circle cx="395.1" cy="1973.0" r="11.6" fill="#ff0000"/>
<circle cx="419.1" cy="1366.2" r="11.6" fill="#ff0000"/>
<circle cx="419.1" cy="1496.3" r="11.6" fill="#ff0000"/>
<circle cx="419.1" cy="1525.5" r="11.6" fill="#ff0000"/>
<circle cx="419.1" cy="1531.7" r="11.6" fill="#ff0000"/>
<circle cx="419.1" cy="1574.6" r="11.6" fill="#ff0000"/>
<circle cx="419.1" cy="1629.1" r="11.6" fill="#ff0000"/>
<circle cx="419.1" cy="1647.4" r="11.6" fill="#ff0000"/>
<circle cx="419.1" cy="1705.3" r="11.6" fill="#ff0000"/>
<circle cx="419.1" cy="1753.6" r="11.6" fill="#ff0000"/>
<circle cx="419.1" cy="1756.8" r="11.6" fill="#ff0000"/>
<circle cx="419.1" cy="1785.9" r="11.6" fill="#ff0000"/>
<circle cx="419.1" cy="1826.5" r="11.6" fill="#ff0000"/>
<circle cx="419.1" cy="1901.9" r="11.6" fill="#ff0000"/>
<circle cx="419.1" cy="1945.3" r="11.6" fill="#ff0000"/>
<circle cx="419.1" cy="2000.5" r="11.6" fill="#ff0000"/>
<circle cx="419.1" cy="2026.1" r="11.6" fill="#ff0000"/>
<circle cx="443.1" cy="1276.2" r="11.6" fill="#ff0000"/>
<circle cx="443.1" cy="1339.1" r="11.6" fill="#ff0000"/>
<circle cx="443.1" cy="1400.5" r="11.6" fill="#ff0000"/>
<circle cx="443.1" cy="1470.3" r="11.6" fill="#ff0000"/>
<circle cx="443.1" cy="1553.3" r="11.6" fill="#ff0000"/>
<circle cx="443.1" cy="1648.5" r="11.6" fill="#ff0000"/>
<circle cx="443.1" cy="1663.1" r="11.6" fill="#ff0000"/>
<circle cx="443.1" cy="1819.2" r="11.6" fill="#ff0000"/>
<circle cx="443.1" cy="1924.4" r="11.6" fill="#ff0000"/>
<circle cx="443.1" cy="1940.1" r="11.6" fill="#ff0000"/>
<circle cx="443.1" cy="1962.0" r="11.6" fill="#ff0000"/>
<circle cx="443.1" cy="1984.9" r="11.6" fill="#ff0000"/>
<circle cx="443.1" cy="2073.4" r="11.6" fill="#ff0000"/>
<circle cx="467.0" cy="1267.3" r="11.6" fill="#1cc81c"/>
<circle cx="467.0" cy="1370.3" r="11.6" fill="#ff0000"/>
<circle cx="467.0" cy="1377.6" r="11.6" fill="#ff0000"/>
<circle cx="467.0" cy="1639.5" r="11.6" fill="#ff0000"/>
<circle cx="467.0" cy="1669.3" r="11.6" fill="#ff0000"/>
<circle cx="467.0" cy="1683.9" r="11.6" fill="#ff0000"/>
<circle cx="467.0" cy="1728.2" r="11.6" fill="#ff0000"/>
<circle cx="467.0" cy="1919.2" r="11.6" fill="#ff0000"/>
<circle cx="467.0" cy="1958.8" r="11.6" fill="#ff0000"/>
<circle cx="467.0" cy="1971.3" r="11.6" fill="#ff0000"/>
<circle cx="467.0" cy="2072.3" r="11.6" fill="#ff0000"/>
<circle cx="491.0" cy="1288.1" r="11.6" fill="#ff0000"/>
<circle cx="491.0" cy="1338.1" r="11.6" fill="#ff0000"/>
<circle cx="491.0" cy="1383.3" r="11.6" fill="#ff0000"/>
<circle cx="491.0" cy="1422.4" r="11.6" fill="#ff0000"/>
<circle cx="491.0" cy="1497.4" r="11.6" fill="#ff0000"/>
<circle cx="491.0" cy="1520.3" r="11.6" fill="#ff0000"/>
<circle cx="491.0" cy="1644.7" r="11.6" fill="#ff0000"/>
<circle cx="491.0" cy="1703.2" r="11.6" fill="#ff0000"/>
<circle cx="491.0" cy="1769.7" r="11.6" fill="#ff0000"/>
<circle cx="491.0" cy="1805.7" r="11.6" fill="#ff0000"/>
<circle cx="491.0" cy="1819.2" r="11.6" fill="#ff0000"/>
<circle cx="491.0" cy="1836.9" r="11.6" fill="#ff0000"/>
<circle cx="491.0" cy="1905.6" r="11.6" fill="#ff0000"/>
<circle cx="491.0" cy="1930.6" r="11.6" fill="#ff0000"/>
<circle cx="491.0" cy="2032.8" r="11.6" fill="#ff0000"/>
<circle cx="515.0" cy="1275.0" r="11.6" fill="#ff0000"/>
<circle cx="515.0" cy="1415.1" r="11.6" fill="#ff0000"/>
<circle cx="515.0" cy="1433.9" r="11.6" fill="#ff0000"/>
<circle cx="515.0" cy="1555.2" r="11.6" fill="#ff0000"/>
<circle cx="515.0" cy="1626.6" r="11.6" fill="#ff0000"/>
<circle cx="515.0" cy="1631.8" r="11.6" fill="#ff0000"/>
<circle cx="515.0" cy="1657.2" r="11.6" fill="#ff0000"/>
<circle cx="515.0" cy="1707.8" r="11.6" fill="#ff0000"/>
<circle cx="515.0" cy="1829.0" r="11.6" fill="#ff0000"/>
<circle cx="515.0" cy="1882.1" r="11.6" fill="#ff0000"/>
<circle cx="515.0" cy="1916.1" r="11.6" fill="#ff0000"/>
<circle cx="515.0" cy="1947.4" r="11.6" fill="#ff0000"/>
<circle cx="515.0" cy="1981.3" r="11.6" fill="#ff0000"/>
<circle cx="515.0" cy="2067.1" r="11.6" fill="#ff0000"/>
<circle cx="538.9" cy="1272.5" r="11.6" fill="#ff0000"/>
<circle cx="538.9" cy="1268.3" r="11.6" fill="#1cc81c"/>
<circle cx="538.9" cy="1297.5" r="11.6" fill="#1cc81c"/>
<circle cx="538.9" cy="1290.2" r="11.6" fill="#ff0000"/>
<circle cx="538.9" cy="1316.2" r="11.6" fill="#ff0000"/>
<circle cx="538.9" cy="1326.6" r="11.6" fill="#ff0000"/>
<circle cx="538.9" cy="1343.3" r="11.6" fill="#1cc81c"/>
<circle cx="538.9" cy="1361.0" r="11.6" fill="#1cc81c"/>
<circle cx="538.9" cy="1405.7" r="11.6" fill="#1cc81c"/>
<circle cx="538.9" cy="1390.1" r="11.6" fill="#ff0000"/>
<circle cx="538.9" cy="1449.5" r="11.6" fill="#ff0000"/>
<circle cx="538.9" cy="1466.1" r="11.6" fill="#ff0000"/>
<circle cx="538.9" cy="1504.7" r="11.6" fill="#ff0000"/>
<circle cx="538.9" cy="1565.6" r="11.6" fill="#ff0000"/>
<circle cx="538.9" cy="1628.7" r="11.6" fill="#ff0000"/>
<circle cx="538.9" cy="1644.3" r="11.6" fill="#ff0000"/>
<circle cx="538.9" cy="1695.7" r="11.6" fill="#ff0000"/>
<circle cx="538.9" cy="1721.4" r="11.6" fill="#ff0000"/>
<circle cx="538.9" cy="1726.6" r="11.6" fill="#ff0000"/>
<circle cx="538.9" cy="1763.0" r="11.6" fill="#ff0000"/>
<circle cx="538.9" cy="1814.0" r="11.6" fill="#ff0000"/>
<circle cx="538.9" cy="1835.9" r="11.6" fill="#ff0000"/>
<circle cx="538.9" cy="1867.1" r="11.6" fill="#ff0000"/>
<circle cx="538.9" cy="1905.7" r="11.6" fill="#ff0000"/>
<circle cx="538.9" cy="1918.2" r="11.6" fill="#ff0000"/>
<circle cx="538.9" cy="1930.7" r="11.6" fill="#ff0000"/>
<circle cx="538.9" cy="1988.0" r="11.6" fill="#ff0000"/>
<circle cx="538.9" cy="1999.4" r="11.6" fill="#ff0000"/>
<circle cx="538.9" cy="2036.9" r="11.6" fill="#ff0000"/>
<circle cx="562.9" cy="1257.9" r="11.6" fill="#ff0000"/>
<circle cx="562.9" cy="1275.6" r="11.6" fill="#ff0000"/>
<circle cx="562.9" cy="1300.6" r="11.6" fill="#ff0000"/>
<circle cx="562.9" cy="1315.2" r="11.6" fill="#ff0000"/>
<circle cx="562.9" cy="1334.9" r="11.6" fill="#1cc81c"/>
<circle cx="562.9" cy="1398.5" r="11.6" fill="#ff0000"/>
<circle cx="562.9" cy="1371.4" r="11.6" fill="#1cc81c"/>
<circle cx="562.9" cy="1381.8" r="11.6" fill="#1cc81c"/>
<circle cx="562.9" cy="1421.4" r="11.6" fill="#1cc81c"/>
<circle cx="562.9" cy="1574.6" r="11.6" fill="#ff0000"/>
<circle cx="562.9" cy="1681.8" r="11.6" fill="#ff0000"/>
<circle cx="562.9" cy="1752.6" r="11.6" fill="#ff0000"/>
<circle cx="562.9" cy="1771.3" r="11.6" fill="#ff0000"/>
<circle cx="562.9" cy="1839.0" r="11.6" fill="#ff0000"/>
<circle cx="562.9" cy="1858.8" r="11.6" fill="#ff0000"/>
<circle cx="562.9" cy="1897.3" r="11.6" fill="#ff0000"/>
<circle cx="562.9" cy="1907.7" r="11.6" fill="#ff0000"/>
<circle cx="562.9" cy="2025.5" r="11.6" fill="#ff0000"/>
<circle cx="586.9" cy="1266.2" r="11.6" fill="#ff0000"/>
<circle cx="586.9" cy="1268.3" r="11.6" fill="#1cc81c"/>
<circle cx="586.9" cy="1334.9" r="11.6" fill="#1cc81c"/>
<circle cx="586.9" cy="1356.8" r="11.6" fill="#ff0000"/>
<circle cx="586.9" cy="1376.6" r="11.6" fill="#ff0000"/>
<circle cx="586.9" cy="1366.6" r="11.6" fill="#1cc81c"/>
<circle cx="586.9" cy="1409.5" r="11.6" fill="#ff0000"/>
<circle cx="586.9" cy="1412.4" r="11.6" fill="#1cc81c"/>
<circle cx="586.9" cy="1439.1" r="11.6" fill="#1cc81c"/>
<circle cx="586.9" cy="1475.5" r="11.6" fill="#ff0000"/>
<circle cx="586.9" cy="1546.5" r="11.6" fill="#ff0000"/>
<circle cx="586.9" cy="1552.7" r="11.6" fill="#ff0000"/>
<circle cx="586.9" cy="1576.6" r="11.6" fill="#ff0000"/>
<circle cx="586.9" cy="1599.5" r="11.6" fill="#ff0000"/>
<circle cx="586.9" cy="1618.3" r="11.6" fill="#ff0000"/>
<circle cx="586.9" cy="1668.3" r="11.6" fill="#ff0000"/>
<circle cx="586.9" cy="1879.6" r="11.6" fill="#ff0000"/>
<circle cx="586.9" cy="1935.3" r="11.6" fill="#ff0000"/>
<circle cx="586.9" cy="1985.9" r="11.6" fill="#ff0000"/>
<circle cx="586.9" cy="2006.7" r="11.6" fill="#ff0000"/>
<circle cx="586.9" cy="2043.6" r="11.6" fill="#ff0000"/>
<circle cx="610.9" cy="1292.3" r="11.6" fill="#ff0000"/>
<circle cx="610.9" cy="1280.8" r="11.6" fill="#1cc81c"/>
<circle cx="610.9" cy="1313.1" r="11.6" fill="#ff0000"/>
<circle cx="610.9" cy="1336.0" r="11.6" fill="#1cc81c"/>
<circle cx="610.9" cy="1348.5" r="11.6" fill="#1cc81c"/>
<circle cx="610.9" cy="1371.4" r="11.6" fill="#1cc81c"/>
<circle cx="610.9" cy="1394.3" r="11.6" fill="#ff0000"/>
<circle cx="610.9" cy="1419.3" r="11.6" fill="#ff0000"/>
<circle cx="610.9" cy="1418.7" r="11.6" fill="#1cc81c"/>
<circle cx="610.9" cy="1450.5" r="11.6" fill="#1cc81c"/>
<circle cx="610.9" cy="1477.6" r="11.6" fill="#ff0000"/>
<circle cx="610.9" cy="1507.8" r="11.6" fill="#ff0000"/>
<circle cx="610.9" cy="1583.9" r="11.6" fill="#ff0000"/>
<circle cx="610.9" cy="1629.7" r="11.6" fill="#ff0000"/>
<circle cx="610.9" cy="1679.7" r="11.6" fill="#ff0000"/>
<circle cx="610.9" cy="1690.1" r="11.6" fill="#ff0000"/>
<circle cx="610.9" cy="1714.1" r="11.6" fill="#ff0000"/>
<circle cx="610.9" cy="1744.3" r="11.6" fill="#ff0000"/>
<circle cx="610.9" cy="1760.9" r="11.6" fill="#ff0000"/>
<circle cx="610.9" cy="1794.2" r="11.6" fill="#ff0000"/>
<circle cx="610.9" cy="1819.2" r="11.6" fill="#ff0000"/>
<circle cx="610.9" cy="1826.5" r="11.6" fill="#ff0000"/>
<circle cx="610.9" cy="1848.4" r="11.6" fill="#ff0000"/>
<circle cx="610.9" cy="1924.4" r="11.6" fill="#ff0000"/>
<circle cx="610.9" cy="1986.3" r="11.6" fill="#ff0000"/>
<circle cx="610.9" cy="2026.5" r="11.6" fill="#ff0000"/>
<circle cx="610.9" cy="2040.0" r="11.6" fill="#ff0000"/>
<circle cx="610.9" cy="2075.4" r="11.6" fill="#ff0000"/>
<circle cx="610.9" cy="2089.0" r="11.6" fill="#ff0000"/>
<circle cx="634.8" cy="1276.6" r="11.6" fill="#ff0000"/>
<circle cx="634.8" cy="1274.6" r="11.6" fill="#1cc81c"/>
<circle cx="634.8" cy="1304.8" r="11.6" fill="#1cc81c"/>
<circle cx="634.8" cy="1327.7" r="11.6" fill="#ff0000"/>
<circle cx="634.8" cy="1340.2" r="11.6" fill="#ff0000"/>
<circle cx="634.8" cy="1352.6" r="11.6" fill="#ff0000"/>
<circle cx="634.8" cy="1351.6" r="11.6" fill="#1cc81c"/>
<circle cx="634.8" cy="1396.4" r="11.6" fill="#1cc81c"/>
<circle cx="634.8" cy="1433.9" r="11.6" fill="#ff0000"/>
<circle cx="634.8" cy="1435.9" r="11.6" fill="#1cc81c"/>
<circle cx="634.8" cy="1465.1" r="11.6" fill="#ff0000"/>
<circle cx="634.8" cy="1502.6" r="11.6" fill="#ff0000"/>
<circle cx="634.8" cy="1562.1" r="11.6" fill="#1cc81c"/>
<circle cx="634.8" cy="1550.6" r="11.6" fill="#ff0000"/>
<circle cx="634.8" cy="1556.9" r="11.6" fill="#ff0000"/>
<circle cx="634.8" cy="1532.8" r="11.6" fill="#1cc81c"/>
<circle cx="634.8" cy="1585.0" r="11.6" fill="#ff0000"/>
<circle cx="634.8" cy="1600.6" r="11.6" fill="#ff0000"/>
<circle cx="634.8" cy="1644.3" r="11.6" fill="#ff0000"/>
<circle cx="634.8" cy="1646.4" r="11.6" fill="#ff0000"/>
<circle cx="634.8" cy="1679.7" r="11.6" fill="#ff0000"/>
<circle cx="634.8" cy="1709.9" r="11.6" fill="#ff0000"/>
<circle cx="634.8" cy="1796.3" r="11.6" fill="#ff0000"/>
<circle cx="634.8" cy="1848.4" r="11.6" fill="#ff0000"/>
<circle cx="634.8" cy="1894.2" r="11.6" fill="#ff0000"/>
<circle cx="634.8" cy="1908.8" r="11.6" fill="#ff0000"/>
<circle cx="634.8" cy="1940.5" r="11.6" fill="#ff0000"/>
<circle cx="634.8" cy="1985.9" r="11.6" fill="#ff0000"/>
<circle cx="634.8" cy="2009.9" r="11.6" fill="#ff0000"/>
<circle cx="634.8" cy="2024.4" r="11.6" fill="#ff0000"/>
<circle cx="634.8" cy="2038.0" r="11.6" fill="#ff0000"/>
<circle cx="658.8" cy="1258.9" r="11.6" fill="#ff0000"/>
<circle cx="658.8" cy="1285.0" r="11.6" fill="#ff0000"/>
<circle cx="658.8" cy="1281.9" r="11.6" fill="#1cc81c"/>
<circle cx="658.8" cy="1308.9" r="11.6" fill="#1cc81c"/>
<circle cx="658.8" cy="1323.5" r="11.6" fill="#ff0000"/>
<circle cx="658.8" cy="1340.2" r="11.6" fill="#ff0000"/>
<circle cx="658.8" cy="1384.9" r="11.6" fill="#1cc81c"/>
<circle cx="658.8" cy="1406.8" r="11.6" fill="#1cc81c"/>
<circle cx="658.8" cy="1423.4" r="11.6" fill="#ff0000"/>
<circle cx="658.8" cy="1433.9" r="11.6" fill="#1cc81c"/>
<circle cx="658.8" cy="1465.1" r="11.6" fill="#1cc81c"/>
<circle cx="658.8" cy="1481.7" r="11.6" fill="#ff0000"/>
<circle cx="658.8" cy="1483.8" r="11.6" fill="#1cc81c"/>
<circle cx="658.8" cy="1498.4" r="11.6" fill="#ff0000"/>
<circle cx="658.8" cy="1577.5" r="11.6" fill="#ff0000"/>
<circle cx="658.8" cy="1606.8" r="11.6" fill="#ff0000"/>
<circle cx="658.8" cy="1606.8" r="11.6" fill="#1cc81c"/>
<circle cx="658.8" cy="1629.7" r="11.6" fill="#ff0000"/>
<circle cx="658.8" cy="1638.1" r="11.6" fill="#ff0000"/>
<circle cx="658.8" cy="1706.8" r="11.6" fill="#ff0000"/>
<circle cx="658.8" cy="1722.4" r="11.6" fill="#ff0000"/>
<circle cx="658.8" cy="1740.1" r="11.6" fill="#ff0000"/>
<circle cx="658.8" cy="1769.3" r="11.6" fill="#ff0000"/>
<circle cx="658.8" cy="1784.9" r="11.6" fill="#ff0000"/>
<circle cx="682.8" cy="1258.9" r="11.6" fill="#ff0000"/>
<circle cx="682.8" cy="1264.2" r="11.6" fill="#1cc81c"/>
<circle cx="682.8" cy="1306.8" r="11.6" fill="#1cc81c"/>
<circle cx="682.8" cy="1288.1" r="11.6" fill="#ff0000"/>
<circle cx="682.8" cy="1297.5" r="11.6" fill="#ff0000"/>
<circle cx="682.8" cy="1323.5" r="11.6" fill="#1cc81c"/>
<circle cx="682.8" cy="1334.9" r="11.6" fill="#1cc81c"/>
<circle cx="682.8" cy="1358.9" r="11.6" fill="#1cc81c"/>
<circle cx="682.8" cy="1379.7" r="11.6" fill="#ff0000"/>
<circle cx="682.8" cy="1393.3" r="11.6" fill="#1cc81c"/>
<circle cx="682.8" cy="1406.8" r="11.6" fill="#ff0000"/>
<circle cx="682.8" cy="1412.0" r="11.6" fill="#ff0000"/>
<circle cx="682.8" cy="1424.5" r="11.6" fill="#1cc81c"/>
<circle cx="682.8" cy="1450.5" r="11.6" fill="#ff0000"/>
<circle cx="682.8" cy="1458.8" r="11.6" fill="#ff0000"/>
<circle cx="682.8" cy="1491.1" r="11.6" fill="#ff0000"/>
<circle cx="682.8" cy="1482.8" r="11.6" fill="#1cc81c"/>
<circle cx="682.8" cy="1500.5" r="11.6" fill="#ff0000"/>
<circle cx="682.8" cy="1517.1" r="11.6" fill="#1cc81c"/>
<circle cx="682.8" cy="1530.7" r="11.6" fill="#ff0000"/>
<circle cx="682.8" cy="1540.0" r="11.6" fill="#ff0000"/>
<circle cx="682.8" cy="1566.1" r="11.6" fill="#ff0000"/>
<circle cx="682.8" cy="1585.9" r="11.6" fill="#ff0000"/>
<circle cx="682.8" cy="1614.0" r="11.6" fill="#1cc81c"/>
<circle cx="682.8" cy="1625.4" r="11.6" fill="#1cc81c"/>
<circle cx="706.7" cy="1282.9" r="11.6" fill="#1cc81c"/>
<circle cx="706.7" cy="1288.1" r="11.6" fill="#ff0000"/>
<circle cx="706.7" cy="1298.5" r="11.6" fill="#ff0000"/>
<circle cx="706.7" cy="1321.4" r="11.6" fill="#ff0000"/>
<circle cx="706.7" cy="1323.5" r="11.6" fill="#1cc81c"/>
<circle cx="706.7" cy="1336.0" r="11.6" fill="#ff0000"/>
<circle cx="706.7" cy="1362.4" r="11.6" fill="#ff0000"/>
<circle cx="706.7" cy="1367.2" r="11.6" fill="#1cc81c"/>
<circle cx="706.7" cy="1373.5" r="11.6" fill="#1cc81c"/>
<circle cx="706.7" cy="1485.9" r="11.6" fill="#1cc81c"/>
<circle cx="706.7" cy="1509.9" r="11.6" fill="#1cc81c"/>
<circle cx="706.7" cy="1518.2" r="11.6" fill="#1cc81c"/>
<circle cx="706.7" cy="1581.7" r="11.6" fill="#1cc81c"/>
<circle cx="706.7" cy="1615.2" r="11.6" fill="#1cc81c"/>
<circle cx="706.7" cy="1620.4" r="11.6" fill="#1cc81c"/>
<line x1="706.7" y1="1664.2" x2="706.7" y2="1692.1" stroke="#1cc81c" stroke-width="23.2" stroke-linecap="round"/>
<circle cx="730.7" cy="1310.0" r="11.6" fill="#1cc81c"/>
<line x1="730.7" y1="1358.0" x2="730.7" y2="1373.3" stroke="#1cc81c" stroke-width="23.2" stroke-linecap="round"/>
<line x1="730.7" y1="1396.5" x2="730.7" y2="1419.1" stroke="#1cc81c" stroke-width="23.2" stroke-linecap="round"/>
<line x1="730.7" y1="1449.6" x2="730.7" y2="1473.3" stroke="#1cc81c" stroke-width="23.2" stroke-linecap="round"/>
<line x1="730.7" y1="1511.0" x2="730.7" y2="1512.8" stroke="#1cc81c" stroke-width="23.2" stroke-linecap="round"/>
<line x1="730.7" y1="1563.1" x2="730.7" y2="1617.1" stroke="#1cc81c" stroke-width="23.2" stroke-linecap="round"/>
<line x1="730.7" y1="1646.5" x2="730.7" y2="1659.8" stroke="#1cc81c" stroke-width="23.2" stroke-linecap="round"/>
<line x1="754.7" y1="1278.9" x2="754.7" y2="1308.8" stroke="#1cc81c" stroke-width="23.2" stroke-linecap="round"/>
<circle cx="754.7" cy="1346.4" r="11.6" fill="#1cc81c"/>
<circle cx="754.7" cy="1375.6" r="11.6" fill="#1cc81c"/>
<line x1="754.7" y1="1406.9" x2="754.7" y2="1429.5" stroke="#1cc81c" stroke-width="23.2" stroke-linecap="round"/>
<line x1="754.7" y1="1455.9" x2="754.7" y2="1494.1" stroke="#1cc81c" stroke-width="23.2" stroke-linecap="round"/>
<circle cx="754.7" cy="1536.9" r="11.6" fill="#1cc81c"/>
<circle cx="754.7" cy="1581.7" r="11.6" fill="#1cc81c"/>
<line x1="754.7" y1="1622.6" x2="754.7" y2="1704.6" stroke="#1cc81c" stroke-width="23.2" stroke-linecap="round"/>
<line x1="754.7" y1="1730.9" x2="754.7" y2="1745.2" stroke="#1cc81c" stroke-width="23.2" stroke-linecap="round"/>
<line x1="778.6" y1="1258.1" x2="778.6" y2="1315.0" stroke="#1cc81c" stroke-width="23.2" stroke-linecap="round"/>
<line x1="778.6" y1="1361.1" x2="778.6" y2="1394.1" stroke="#1cc81c" stroke-width="23.2" stroke-linecap="round"/>
<line x1="778.6" y1="1439.2" x2="778.6" y2="1491.0" stroke="#1cc81c" stroke-width="23.2" stroke-linecap="round"/>
<circle cx="778.6" cy="1514.0" r="11.6" fill="#1cc81c"/>
<circle cx="778.6" cy="1583.8" r="11.6" fill="#1cc81c"/>
<line x1="778.6" y1="1658.0" x2="778.6" y2="1661.9" stroke="#1cc81c" stroke-width="23.2" stroke-linecap="round"/>
<circle cx="778.6" cy="1707.8" r="11.6" fill="#1cc81c"/>
<line x1="778.6" y1="1740.2" x2="778.6" y2="1769.1" stroke="#1cc81c" stroke-width="23.2" stroke-linecap="round"/>
<circle cx="778.6" cy="1795.3" r="11.6" fill="#1cc81c"/>
<line x1="778.6" y1="1819.4" x2="778.6" y2="1821.2" stroke="#1cc81c" stroke-width="23.2" stroke-linecap="round"/>
<line x1="802.6" y1="1258.1" x2="802.6" y2="1300.4" stroke="#1cc81c" stroke-width="23.2" stroke-linecap="round"/>
<line x1="802.6" y1="1350.7" x2="802.6" y2="1445.2" stroke="#1cc81c" stroke-width="23.2" stroke-linecap="round"/>
<line x1="802.6" y1="1477.7" x2="802.6" y2="1483.7" stroke="#1cc81c" stroke-width="23.2" stroke-linecap="round"/>
<line x1="802.6" y1="1507.9" x2="802.6" y2="1527.4" stroke="#1cc81c" stroke-width="23.2" stroke-linecap="round"/>
<circle cx="802.6" cy="1560.9" r="11.6" fill="#1cc81c"/>
<line x1="802.6" y1="1601.6" x2="802.6" y2="1706.6" stroke="#1cc81c" stroke-width="23.2" stroke-linecap="round"/>
<line x1="802.6" y1="1754.8" x2="802.6" y2="1769.1" stroke="#1cc81c" stroke-width="23.2" stroke-linecap="round"/>
<circle cx="802.6" cy="1813.0" r="11.6" fill="#1cc81c"/>
<circle cx="802.6" cy="1832.8" r="11.6" fill="#1cc81c"/>
<line x1="826.6" y1="1293.5" x2="826.6" y2="1375.4" stroke="#1cc81c" stroke-width="23.2" stroke-linecap="round"/>
<circle cx="826.6" cy="1426.6" r="11.6" fill="#1cc81c"/>
<line x1="826.6" y1="1456.9" x2="826.6" y2="1481.6" stroke="#1cc81c" stroke-width="23.2" stroke-linecap="round"/>
<circle cx="826.6" cy="1508.8" r="11.6" fill="#1cc81c"/>
<line x1="826.6" y1="1537.1" x2="826.6" y2="1561.9" stroke="#1cc81c" stroke-width="23.2" stroke-linecap="round"/>
<line x1="826.6" y1="1585.1" x2="826.6" y2="1651.5" stroke="#1cc81c" stroke-width="23.2" stroke-linecap="round"/>
<line x1="826.6" y1="1695.5" x2="826.6" y2="1812.8" stroke="#1cc81c" stroke-width="23.2" stroke-linecap="round"/>
<line x1="826.6" y1="1843.3" x2="826.6" y2="1854.5" stroke="#1cc81c" stroke-width="23.2" stroke-linecap="round"/>
<line x1="826.6" y1="1888.1" x2="826.6" y2="1917.0" stroke="#1cc81c" stroke-width="23.2" stroke-linecap="round"/>
<line x1="850.6" y1="1478.8" x2="850.6" y2="1641.0" stroke="#1cc81c" stroke-width="23.2" stroke-linecap="round"/>
<line x1="850.6" y1="1669.5" x2="850.6" y2="1717.0" stroke="#1cc81c" stroke-width="23.2" stroke-linecap="round"/>
<line x1="850.6" y1="1759.0" x2="850.6" y2="1906.6" stroke="#1cc81c" stroke-width="23.2" stroke-linecap="round"/>
<line x1="850.6" y1="1933.0" x2="850.6" y2="1952.4" stroke="#1cc81c" stroke-width="23.2" stroke-linecap="round"/>
<line x1="874.5" y1="1654.9" x2="874.5" y2="1913.9" stroke="#1cc81c" stroke-width="23.2" stroke-linecap="round"/>
<line x1="874.5" y1="1953.8" x2="874.5" y2="1981.6" stroke="#1cc81c" stroke-width="23.2" stroke-linecap="round"/>
<line x1="898.5" y1="1823.5" x2="898.5" y2="2042.0" stroke="#1cc81c" stroke-width="23.2" stroke-linecap="round"/>
<text transform="translate(0.0,2208.5) scale(1.154,1)" font-size="50" x="399.4 415.0 439.3 466.8 482.4 514.9 529.7 548.7 577.8 602.9 619.9" y="0.0 0.0 0.0 0.0 0.0 14.0 0.0 0.0 0.0 0.0 0.0">log(R<tspan font-size="31.0">e</tspan>[pc])</text>
<text transform="translate(92.4,1866.3) rotate(-90) scale(1.060,1)" font-size="50" x="-1.6 12.9 36.7 64.6 84.0 102.9 145.1 162.8 188.6 221.6 246.4 271.5 298.0 319.4 339.2" y="0.0 0.0 0.0 0.0 0.0 13.8 0.0 0.0 13.8 0.0 0.0 0.0 -15.1 0.0 0.0">log(I<tspan font-size="31.0">e</tspan>[L<tspan font-family="'DejaVu Sans', sans-serif" font-size="27.9">⊙</tspan>/pc<tspan font-size="27.7">2</tspan>])</text>
<rect x="1346" y="1257" width="839" height="839" fill="none" stroke="#000" stroke-width="2"/>
<path d="M1346.0 2096v-25M1346.0 1257v25M1393.9 2096v-13M1393.9 1257v13M1441.9 2096v-13M1441.9 1257v13M1489.8 2096v-13M1489.8 1257v13M1537.8 2096v-13M1537.8 1257v13M1585.7 2096v-25M1585.7 1257v25M1633.6 2096v-13M1633.6 1257v13M1681.6 2096v-13M1681.6 1257v13M1729.5 2096v-13M1729.5 1257v13M1777.5 2096v-13M1777.5 1257v13M1825.4 2096v-25M1825.4 1257v25M1873.3 2096v-13M1873.3 1257v13M1921.3 2096v-13M1921.3 1257v13M1969.2 2096v-13M1969.2 1257v13M2017.2 2096v-13M2017.2 1257v13M2065.1 2096v-25M2065.1 1257v25M2113.0 2096v-13M2113.0 1257v13M2161.0 2096v-13M2161.0 1257v13M1346 2096.0h25M2185 2096.0h-25M1346 2054.1h13M2185 2054.1h-13M1346 2012.1h13M2185 2012.1h-13M1346 1970.2h13M2185 1970.2h-13M1346 1928.2h13M2185 1928.2h-13M1346 1886.2h25M2185 1886.2h-25M1346 1844.3h13M2185 1844.3h-13M1346 1802.3h13M2185 1802.3h-13M1346 1760.4h13M2185 1760.4h-13M1346 1718.5h13M2185 1718.5h-13M1346 1676.5h25M2185 1676.5h-25M1346 1634.5h13M2185 1634.5h-13M1346 1592.6h13M2185 1592.6h-13M1346 1550.7h13M2185 1550.7h-13M1346 1508.7h13M2185 1508.7h-13M1346 1466.8h25M2185 1466.8h-25M1346 1424.8h13M2185 1424.8h-13M1346 1382.8h13M2185 1382.8h-13M1346 1340.9h13M2185 1340.9h-13M1346 1299.0h13M2185 1299.0h-13M1346 1257.0h25M2185 1257.0h-25" fill="none" stroke="#000" stroke-width="2"/>
<text transform="translate(0.0,2142.1) scale(1.150,1)" font-size="38.5" x="1161.0" y="0.0">2</text>
<text transform="translate(0.0,2142.1) scale(1.150,1)" font-size="38.5" x="1369.1" y="0.0">3</text>
<text transform="translate(0.0,2142.1) scale(1.150,1)" font-size="38.5" x="1577.6" y="0.0">4</text>
<text transform="translate(0.0,2142.1) scale(1.150,1)" font-size="38.5" x="1785.7" y="0.0">5</text>
<text transform="translate(0.0,2109.1) scale(1.150,1)" font-size="38.5" x="1132.6" y="0.0">0</text>
<text transform="translate(0.0,1899.3) scale(1.150,1)" font-size="38.5" x="1132.1" y="0.0">1</text>
<text transform="translate(0.0,1689.6) scale(1.150,1)" font-size="38.5" x="1132.8" y="0.0">2</text>
<text transform="translate(0.0,1479.8) scale(1.150,1)" font-size="38.5" x="1132.4" y="0.0">3</text>
<text transform="translate(0.0,1270.1) scale(1.150,1)" font-size="38.5" x="1132.5" y="0.0">4</text>
<line x1="1417.9" y1="1257.0" x2="2177.8" y2="1921.9" stroke="#000" stroke-width="2.2" stroke-dasharray="18.3 8.48"/>
<line x1="1346.0" y1="1396.5" x2="1744.4" y2="2096.0" stroke="#000" stroke-width="2.1" stroke-dasharray="3.6 5.05"/>
<line x1="1554.1" y1="1257.0" x2="2030.8" y2="2096.0" stroke="#000" stroke-width="2.1" stroke-dasharray="3.6 5.05"/>
<circle cx="1346.4" cy="1269.4" r="11.6" fill="#ff0000"/>
<circle cx="1346.4" cy="1322.5" r="11.6" fill="#ff0000"/>
<circle cx="1346.4" cy="1343.3" r="11.6" fill="#ff0000"/>
<circle cx="1346.4" cy="1389.1" r="11.6" fill="#ff0000"/>
<circle cx="1346.4" cy="1425.5" r="11.6" fill="#ff0000"/>
<circle cx="1346.4" cy="1440.1" r="11.6" fill="#ff0000"/>
<circle cx="1346.4" cy="1454.7" r="11.6" fill="#ff0000"/>
<circle cx="1346.4" cy="1516.1" r="11.6" fill="#ff0000"/>
<circle cx="1346.4" cy="1569.4" r="11.6" fill="#ff0000"/>
<circle cx="1346.4" cy="1583.9" r="11.6" fill="#ff0000"/>
<circle cx="1346.4" cy="1598.5" r="11.6" fill="#ff0000"/>
<circle cx="1346.4" cy="1794.2" r="11.6" fill="#ff0000"/>
<circle cx="1346.4" cy="1819.2" r="11.6" fill="#ff0000"/>
<circle cx="1346.4" cy="1933.8" r="11.6" fill="#ff0000"/>
<circle cx="1370.4" cy="1501.1" r="11.6" fill="#ff0000"/>
<circle cx="1370.4" cy="1708.9" r="11.6" fill="#ff0000"/>
<circle cx="1370.4" cy="1726.6" r="11.6" fill="#ff0000"/>
<circle cx="1370.4" cy="1801.5" r="11.6" fill="#ff0000"/>
<circle cx="1370.4" cy="1833.2" r="11.6" fill="#ff0000"/>
<circle cx="1370.4" cy="1858.4" r="11.6" fill="#ff0000"/>
<circle cx="1370.4" cy="1915.0" r="11.6" fill="#ff0000"/>
<circle cx="1370.4" cy="1962.0" r="11.6" fill="#ff0000"/>
<circle cx="1370.4" cy="2031.7" r="11.6" fill="#ff0000"/>
<circle cx="1370.4" cy="2036.9" r="11.6" fill="#ff0000"/>
<circle cx="1394.3" cy="1297.5" r="11.6" fill="#ff0000"/>
<circle cx="1394.3" cy="1382.8" r="11.6" fill="#ff0000"/>
<circle cx="1394.3" cy="1490.1" r="11.6" fill="#ff0000"/>
<circle cx="1394.3" cy="1550.6" r="11.6" fill="#ff0000"/>
<circle cx="1394.3" cy="1560.0" r="11.6" fill="#ff0000"/>
<circle cx="1394.3" cy="1600.6" r="11.6" fill="#ff0000"/>
<circle cx="1394.3" cy="1718.2" r="11.6" fill="#ff0000"/>
<circle cx="1394.3" cy="1907.7" r="11.6" fill="#ff0000"/>
<circle cx="1394.3" cy="1971.3" r="11.6" fill="#ff0000"/>
<circle cx="1394.3" cy="1993.2" r="11.6" fill="#ff0000"/>
<circle cx="1394.3" cy="2069.6" r="11.6" fill="#ff0000"/>
<circle cx="1418.3" cy="1256.9" r="11.6" fill="#ff0000"/>
<circle cx="1418.3" cy="1316.2" r="11.6" fill="#ff0000"/>
<circle cx="1418.3" cy="1374.5" r="11.6" fill="#ff0000"/>
<circle cx="1418.3" cy="1383.9" r="11.6" fill="#ff0000"/>
<circle cx="1418.3" cy="1454.7" r="11.6" fill="#ff0000"/>
<circle cx="1418.3" cy="1481.7" r="11.6" fill="#ff0000"/>
<circle cx="1418.3" cy="1487.0" r="11.6" fill="#ff0000"/>
<circle cx="1418.3" cy="1522.4" r="11.6" fill="#ff0000"/>
<circle cx="1418.3" cy="1534.8" r="11.6" fill="#ff0000"/>
<circle cx="1418.3" cy="1547.3" r="11.6" fill="#ff0000"/>
<circle cx="1418.3" cy="1557.9" r="11.6" fill="#ff0000"/>
<circle cx="1418.3" cy="1681.8" r="11.6" fill="#ff0000"/>
<circle cx="1418.3" cy="1687.0" r="11.6" fill="#ff0000"/>
<circle cx="1418.3" cy="1728.6" r="11.6" fill="#ff0000"/>
<circle cx="1418.3" cy="1741.1" r="11.6" fill="#ff0000"/>
<circle cx="1418.3" cy="1780.7" r="11.6" fill="#ff0000"/>
<circle cx="1418.3" cy="1982.8" r="11.6" fill="#ff0000"/>
<circle cx="1418.3" cy="2005.7" r="11.6" fill="#ff0000"/>
<circle cx="1418.3" cy="2047.3" r="11.6" fill="#ff0000"/>
<circle cx="1442.3" cy="1333.9" r="11.6" fill="#ff0000"/>
<circle cx="1442.3" cy="1348.5" r="11.6" fill="#ff0000"/>
<circle cx="1442.3" cy="1441.1" r="11.6" fill="#ff0000"/>
<circle cx="1442.3" cy="1553.7" r="11.6" fill="#ff0000"/>
<circle cx="1442.3" cy="1591.2" r="11.6" fill="#ff0000"/>
<circle cx="1442.3" cy="1607.9" r="11.6" fill="#ff0000"/>
<circle cx="1442.3" cy="1626.6" r="11.6" fill="#ff0000"/>
<circle cx="1442.3" cy="1643.3" r="11.6" fill="#ff0000"/>
<circle cx="1442.3" cy="1687.0" r="11.6" fill="#ff0000"/>
<circle cx="1442.3" cy="1735.5" r="11.6" fill="#ff0000"/>
<circle cx="1442.3" cy="1812.4" r="11.6" fill="#ff0000"/>
<circle cx="1442.3" cy="1868.2" r="11.6" fill="#ff0000"/>
<circle cx="1442.3" cy="1942.6" r="11.6" fill="#ff0000"/>
<circle cx="1442.3" cy="1953.6" r="11.6" fill="#ff0000"/>
<circle cx="1442.3" cy="2048.4" r="11.6" fill="#ff0000"/>
<circle cx="1442.3" cy="2052.5" r="11.6" fill="#ff0000"/>
<circle cx="1466.2" cy="1273.5" r="11.6" fill="#ff0000"/>
<circle cx="1466.2" cy="1290.2" r="11.6" fill="#ff0000"/>
<circle cx="1466.2" cy="1348.5" r="11.6" fill="#ff0000"/>
<circle cx="1466.2" cy="1359.9" r="11.6" fill="#ff0000"/>
<circle cx="1466.2" cy="1380.8" r="11.6" fill="#ff0000"/>
<circle cx="1466.2" cy="1533.2" r="11.6" fill="#ff0000"/>
<circle cx="1466.2" cy="1588.1" r="11.6" fill="#ff0000"/>
<circle cx="1466.2" cy="1602.7" r="11.6" fill="#ff0000"/>
<circle cx="1466.2" cy="1630.8" r="11.6" fill="#ff0000"/>
<circle cx="1466.2" cy="1642.2" r="11.6" fill="#ff0000"/>
<circle cx="1466.2" cy="1902.5" r="11.6" fill="#ff0000"/>
<circle cx="1490.2" cy="1261.7" r="11.6" fill="#ff0000"/>
<circle cx="1490.2" cy="1334.9" r="11.6" fill="#ff0000"/>
<circle cx="1490.2" cy="1347.4" r="11.6" fill="#ff0000"/>
<circle cx="1490.2" cy="1469.3" r="11.6" fill="#ff0000"/>
<circle cx="1490.2" cy="1503.6" r="11.6" fill="#ff0000"/>
<circle cx="1490.2" cy="1603.1" r="11.6" fill="#ff0000"/>
<circle cx="1490.2" cy="1661.0" r="11.6" fill="#ff0000"/>
<circle cx="1490.2" cy="1765.5" r="11.6" fill="#ff0000"/>
<circle cx="1490.2" cy="1792.2" r="11.6" fill="#ff0000"/>
<circle cx="1490.2" cy="1819.2" r="11.6" fill="#ff0000"/>
<circle cx="1490.2" cy="1845.3" r="11.6" fill="#ff0000"/>
<circle cx="1490.2" cy="1865.0" r="11.6" fill="#ff0000"/>
<circle cx="1490.2" cy="1911.9" r="11.6" fill="#ff0000"/>
<circle cx="1490.2" cy="1921.3" r="11.6" fill="#ff0000"/>
<circle cx="1490.2" cy="1976.5" r="11.6" fill="#ff0000"/>
<circle cx="1490.2" cy="1981.7" r="11.6" fill="#ff0000"/>
<circle cx="1490.2" cy="2029.0" r="11.6" fill="#ff0000"/>
<circle cx="1514.2" cy="1274.6" r="11.6" fill="#1cc81c"/>
<circle cx="1514.2" cy="1257.9" r="11.6" fill="#ff0000"/>
<circle cx="1514.2" cy="1281.9" r="11.6" fill="#ff0000"/>
<circle cx="1514.2" cy="1429.7" r="11.6" fill="#ff0000"/>
<circle cx="1514.2" cy="1449.5" r="11.6" fill="#ff0000"/>
<circle cx="1514.2" cy="1481.7" r="11.6" fill="#ff0000"/>
<circle cx="1514.2" cy="1493.2" r="11.6" fill="#ff0000"/>
<circle cx="1514.2" cy="1515.1" r="11.6" fill="#ff0000"/>
<circle cx="1514.2" cy="1543.3" r="11.6" fill="#ff0000"/>
<circle cx="1514.2" cy="1557.9" r="11.6" fill="#ff0000"/>
<circle cx="1514.2" cy="1610.4" r="11.6" fill="#ff0000"/>
<circle cx="1514.2" cy="1652.0" r="11.6" fill="#ff0000"/>
<circle cx="1514.2" cy="1718.2" r="11.6" fill="#ff0000"/>
<circle cx="1514.2" cy="1732.8" r="11.6" fill="#ff0000"/>
<circle cx="1514.2" cy="1750.5" r="11.6" fill="#ff0000"/>
<circle cx="1514.2" cy="1804.0" r="11.6" fill="#ff0000"/>
<circle cx="1514.2" cy="1846.3" r="11.6" fill="#ff0000"/>
<circle cx="1514.2" cy="1864.0" r="11.6" fill="#ff0000"/>
<circle cx="1514.2" cy="1944.3" r="11.6" fill="#ff0000"/>
<circle cx="1514.2" cy="1958.8" r="11.6" fill="#ff0000"/>
<circle cx="1514.2" cy="1980.7" r="11.6" fill="#ff0000"/>
<circle cx="1514.2" cy="2005.7" r="11.6" fill="#ff0000"/>
<circle cx="1538.2" cy="1257.9" r="11.6" fill="#ff0000"/>
<circle cx="1538.2" cy="1263.1" r="11.6" fill="#ff0000"/>
<circle cx="1538.2" cy="1308.3" r="11.6" fill="#1cc81c"/>
<circle cx="1538.2" cy="1332.9" r="11.6" fill="#ff0000"/>
<circle cx="1538.2" cy="1351.6" r="11.6" fill="#ff0000"/>
<circle cx="1538.2" cy="1371.4" r="11.6" fill="#ff0000"/>
<circle cx="1538.2" cy="1386.0" r="11.6" fill="#ff0000"/>
<circle cx="1538.2" cy="1411.0" r="11.6" fill="#ff0000"/>
<circle cx="1538.2" cy="1429.7" r="11.6" fill="#ff0000"/>
<circle cx="1538.2" cy="1441.1" r="11.6" fill="#ff0000"/>
<circle cx="1538.2" cy="1498.4" r="11.6" fill="#ff0000"/>
<circle cx="1538.2" cy="1563.1" r="11.6" fill="#ff0000"/>
<circle cx="1538.2" cy="1576.6" r="11.6" fill="#ff0000"/>
<circle cx="1538.2" cy="1591.2" r="11.6" fill="#ff0000"/>
<circle cx="1538.2" cy="1618.3" r="11.6" fill="#ff0000"/>
<circle cx="1538.2" cy="1661.4" r="11.6" fill="#ff0000"/>
<circle cx="1538.2" cy="1716.2" r="11.6" fill="#ff0000"/>
<circle cx="1538.2" cy="1737.0" r="11.6" fill="#ff0000"/>
<circle cx="1538.2" cy="1785.9" r="11.6" fill="#ff0000"/>
<circle cx="1538.2" cy="1803.6" r="11.6" fill="#ff0000"/>
<circle cx="1538.2" cy="1853.6" r="11.6" fill="#ff0000"/>
<circle cx="1538.2" cy="1928.6" r="11.6" fill="#ff0000"/>
<circle cx="1538.2" cy="1971.3" r="11.6" fill="#ff0000"/>
<circle cx="1538.2" cy="2010.9" r="11.6" fill="#ff0000"/>
<circle cx="1538.2" cy="2026.5" r="11.6" fill="#ff0000"/>
<circle cx="1538.2" cy="2040.0" r="11.6" fill="#ff0000"/>
<circle cx="1538.2" cy="2067.1" r="11.6" fill="#ff0000"/>
<circle cx="1538.2" cy="2081.7" r="11.6" fill="#ff0000"/>
<circle cx="1562.1" cy="1271.4" r="11.6" fill="#ff0000"/>
<circle cx="1562.1" cy="1348.5" r="11.6" fill="#1cc81c"/>
<circle cx="1562.1" cy="1362.0" r="11.6" fill="#1cc81c"/>
<circle cx="1562.1" cy="1326.6" r="11.6" fill="#ff0000"/>
<circle cx="1562.1" cy="1339.1" r="11.6" fill="#ff0000"/>
<circle cx="1562.1" cy="1380.8" r="11.6" fill="#ff0000"/>
<circle cx="1562.1" cy="1403.7" r="11.6" fill="#ff0000"/>
<circle cx="1562.1" cy="1426.6" r="11.6" fill="#ff0000"/>
<circle cx="1562.1" cy="1442.2" r="11.6" fill="#ff0000"/>
<circle cx="1562.1" cy="1528.6" r="11.6" fill="#ff0000"/>
<circle cx="1562.1" cy="1552.7" r="11.6" fill="#ff0000"/>
<circle cx="1562.1" cy="1560.0" r="11.6" fill="#ff0000"/>
<circle cx="1562.1" cy="1590.2" r="11.6" fill="#ff0000"/>
<circle cx="1562.1" cy="1623.5" r="11.6" fill="#ff0000"/>
<circle cx="1562.1" cy="1672.4" r="11.6" fill="#ff0000"/>
<circle cx="1562.1" cy="1687.0" r="11.6" fill="#ff0000"/>
<circle cx="1562.1" cy="1716.8" r="11.6" fill="#ff0000"/>
<circle cx="1562.1" cy="1771.3" r="11.6" fill="#ff0000"/>
<circle cx="1562.1" cy="1809.9" r="11.6" fill="#ff0000"/>
<circle cx="1562.1" cy="1826.5" r="11.6" fill="#ff0000"/>
<circle cx="1562.1" cy="1838.0" r="11.6" fill="#ff0000"/>
<circle cx="1562.1" cy="1860.5" r="11.6" fill="#ff0000"/>
<circle cx="1562.1" cy="1913.0" r="11.6" fill="#ff0000"/>
<circle cx="1562.1" cy="1928.6" r="11.6" fill="#ff0000"/>
<circle cx="1562.1" cy="1953.6" r="11.6" fill="#ff0000"/>
<circle cx="1562.1" cy="1975.5" r="11.6" fill="#ff0000"/>
<circle cx="1562.1" cy="2009.9" r="11.6" fill="#ff0000"/>
<circle cx="1562.1" cy="2033.2" r="11.6" fill="#ff0000"/>
<circle cx="1562.1" cy="2057.7" r="11.6" fill="#ff0000"/>
<circle cx="1562.1" cy="2069.2" r="11.6" fill="#ff0000"/>
<circle cx="1586.1" cy="1267.3" r="11.6" fill="#ff0000"/>
<circle cx="1586.1" cy="1282.9" r="11.6" fill="#ff0000"/>
<circle cx="1586.1" cy="1346.4" r="11.6" fill="#1cc81c"/>
<circle cx="1586.1" cy="1336.0" r="11.6" fill="#ff0000"/>
<circle cx="1586.1" cy="1378.7" r="11.6" fill="#ff0000"/>
<line x1="1586.1" y1="1402.8" x2="1586.1" y2="1474.3" stroke="#ff0000" stroke-width="23.2" stroke-linecap="round"/>
<circle cx="1586.1" cy="1608.9" r="11.6" fill="#ff0000"/>
<circle cx="1586.1" cy="1650.6" r="11.6" fill="#ff0000"/>
<circle cx="1586.1" cy="1664.1" r="11.6" fill="#ff0000"/>
<circle cx="1586.1" cy="1699.5" r="11.6" fill="#ff0000"/>
<circle cx="1586.1" cy="1725.9" r="11.6" fill="#ff0000"/>
<circle cx="1586.1" cy="1775.9" r="11.6" fill="#ff0000"/>
<circle cx="1586.1" cy="1833.2" r="11.6" fill="#ff0000"/>
<circle cx="1586.1" cy="1873.4" r="11.6" fill="#ff0000"/>
<circle cx="1586.1" cy="1893.1" r="11.6" fill="#ff0000"/>
<circle cx="1586.1" cy="1912.9" r="11.6" fill="#ff0000"/>
<circle cx="1586.1" cy="1966.1" r="11.6" fill="#ff0000"/>
<circle cx="1586.1" cy="1984.9" r="11.6" fill="#ff0000"/>
<circle cx="1586.1" cy="2016.1" r="11.6" fill="#ff0000"/>
<circle cx="1586.1" cy="2030.7" r="11.6" fill="#ff0000"/>
<circle cx="1586.1" cy="2045.3" r="11.6" fill="#ff0000"/>
<circle cx="1586.1" cy="2072.3" r="11.6" fill="#ff0000"/>
<circle cx="1586.1" cy="2093.1" r="11.6" fill="#ff0000"/>
<circle cx="1610.1" cy="1269.4" r="11.6" fill="#ff0000"/>
<circle cx="1610.1" cy="1265.2" r="11.6" fill="#1cc81c"/>
<circle cx="1610.1" cy="1297.5" r="11.6" fill="#1cc81c"/>
<circle cx="1610.1" cy="1308.9" r="11.6" fill="#1cc81c"/>
<circle cx="1610.1" cy="1310.0" r="11.6" fill="#ff0000"/>
<line x1="1610.1" y1="1326.8" x2="1610.1" y2="1378.5" stroke="#ff0000" stroke-width="23.2" stroke-linecap="round"/>
<circle cx="1610.1" cy="1411.0" r="11.6" fill="#ff0000"/>
<circle cx="1610.1" cy="1421.4" r="11.6" fill="#ff0000"/>
<circle cx="1610.1" cy="1454.7" r="11.6" fill="#ff0000"/>
<circle cx="1610.1" cy="1444.3" r="11.6" fill="#1cc81c"/>
<circle cx="1610.1" cy="1481.7" r="11.6" fill="#ff0000"/>
<circle cx="1610.1" cy="1514.0" r="11.6" fill="#ff0000"/>
<line x1="1610.1" y1="1549.6" x2="1610.1" y2="1582.7" stroke="#ff0000" stroke-width="23.2" stroke-linecap="round"/>
<circle cx="1610.1" cy="1608.3" r="11.6" fill="#ff0000"/>
<line x1="1610.1" y1="1634.1" x2="1610.1" y2="1666.0" stroke="#ff0000" stroke-width="23.2" stroke-linecap="round"/>
<line x1="1610.1" y1="1722.6" x2="1610.1" y2="1752.4" stroke="#ff0000" stroke-width="23.2" stroke-linecap="round"/>
<line x1="1610.1" y1="1790.2" x2="1610.1" y2="1882.6" stroke="#ff0000" stroke-width="23.2" stroke-linecap="round"/>
<line x1="1610.1" y1="1910.0" x2="1610.1" y2="1966.0" stroke="#ff0000" stroke-width="23.2" stroke-linecap="round"/>
<circle cx="1634.0" cy="1300.6" r="11.6" fill="#1cc81c"/>
<circle cx="1634.0" cy="1331.8" r="11.6" fill="#1cc81c"/>
<line x1="1634.0" y1="1276.8" x2="1634.0" y2="1287.9" stroke="#ff0000" stroke-width="23.2" stroke-linecap="round"/>
<circle cx="1634.0" cy="1312.0" r="11.6" fill="#ff0000"/>
<circle cx="1634.0" cy="1326.6" r="11.6" fill="#ff0000"/>
<line x1="1634.0" y1="1349.0" x2="1634.0" y2="1371.2" stroke="#ff0000" stroke-width="23.2" stroke-linecap="round"/>
<circle cx="1634.0" cy="1399.5" r="11.6" fill="#1cc81c"/>
<line x1="1634.0" y1="1406.9" x2="1634.0" y2="1420.2" stroke="#ff0000" stroke-width="23.2" stroke-linecap="round"/>
<circle cx="1634.0" cy="1458.8" r="11.6" fill="#ff0000"/>
<circle cx="1634.0" cy="1444.3" r="11.6" fill="#1cc81c"/>
<circle cx="1634.0" cy="1498.4" r="11.6" fill="#ff0000"/>
<circle cx="1634.0" cy="1483.8" r="11.6" fill="#1cc81c"/>
<circle cx="1634.0" cy="1540.0" r="11.6" fill="#ff0000"/>
<line x1="1634.0" y1="1581.0" x2="1634.0" y2="1610.9" stroke="#ff0000" stroke-width="23.2" stroke-linecap="round"/>
<line x1="1634.0" y1="1637.2" x2="1634.0" y2="1687.9" stroke="#ff0000" stroke-width="23.2" stroke-linecap="round"/>
<circle cx="1634.0" cy="1729.3" r="11.6" fill="#ff0000"/>
<circle cx="1658.0" cy="1255.8" r="11.6" fill="#1cc81c"/>
<circle cx="1658.0" cy="1279.8" r="11.6" fill="#1cc81c"/>
<line x1="1658.0" y1="1261.2" x2="1658.0" y2="1305.6" stroke="#ff0000" stroke-width="23.2" stroke-linecap="round"/>
<line x1="1658.0" y1="1334.1" x2="1658.0" y2="1416.0" stroke="#ff0000" stroke-width="23.2" stroke-linecap="round"/>
<line x1="1658.0" y1="1486.1" x2="1658.0" y2="1511.8" stroke="#ff0000" stroke-width="23.2" stroke-linecap="round"/>
<line x1="1658.0" y1="1439.2" x2="1658.0" y2="1462.9" stroke="#1cc81c" stroke-width="23.2" stroke-linecap="round"/>
<circle cx="1682.0" cy="1296.4" r="11.6" fill="#1cc81c"/>
<line x1="1682.0" y1="1262.2" x2="1682.0" y2="1286.9" stroke="#ff0000" stroke-width="23.2" stroke-linecap="round"/>
<line x1="1682.0" y1="1322.6" x2="1682.0" y2="1360.8" stroke="#1cc81c" stroke-width="23.2" stroke-linecap="round"/>
<circle cx="1682.0" cy="1397.4" r="11.6" fill="#1cc81c"/>
<circle cx="1682.0" cy="1478.6" r="11.6" fill="#1cc81c"/>
<circle cx="1706.0" cy="1262.1" r="11.6" fill="#1cc81c"/>
<circle cx="1706.0" cy="1301.6" r="11.6" fill="#1cc81c"/>
<circle cx="1706.0" cy="1508.8" r="11.6" fill="#1cc81c"/>
<line x1="1706.0" y1="1541.2" x2="1706.0" y2="1550.3" stroke="#1cc81c" stroke-width="23.2" stroke-linecap="round"/>
<circle cx="1706.0" cy="1607.7" r="11.6" fill="#1cc81c"/>
<line x1="1729.9" y1="1291.4" x2="1729.9" y2="1303.6" stroke="#1cc81c" stroke-width="23.2" stroke-linecap="round"/>
<line x1="1729.9" y1="1461.1" x2="1729.9" y2="1476.4" stroke="#1cc81c" stroke-width="23.2" stroke-linecap="round"/>
<line x1="1729.9" y1="1518.3" x2="1729.9" y2="1537.8" stroke="#1cc81c" stroke-width="23.2" stroke-linecap="round"/>
<circle cx="1753.9" cy="1268.3" r="11.6" fill="#1cc81c"/>
<circle cx="1753.9" cy="1294.3" r="11.6" fill="#1cc81c"/>
<circle cx="1753.9" cy="1274.6" r="11.6" fill="#ff0000"/>
<line x1="1753.9" y1="1349.7" x2="1753.9" y2="1371.2" stroke="#1cc81c" stroke-width="23.2" stroke-linecap="round"/>
<circle cx="1753.9" cy="1421.8" r="11.6" fill="#1cc81c"/>
<line x1="1753.9" y1="1517.3" x2="1753.9" y2="1535.7" stroke="#1cc81c" stroke-width="23.2" stroke-linecap="round"/>
<circle cx="1753.9" cy="1578.6" r="11.6" fill="#1cc81c"/>
<line x1="1753.9" y1="1653.8" x2="1753.9" y2="1661.9" stroke="#1cc81c" stroke-width="23.2" stroke-linecap="round"/>
<circle cx="1777.9" cy="1266.2" r="11.6" fill="#1cc81c"/>
<circle cx="1777.9" cy="1288.1" r="11.6" fill="#ff0000"/>
<circle cx="1777.9" cy="1298.5" r="11.6" fill="#1cc81c"/>
<circle cx="1777.9" cy="1339.1" r="11.6" fill="#1cc81c"/>
<line x1="1777.9" y1="1323.6" x2="1777.9" y2="1326.5" stroke="#ff0000" stroke-width="23.2" stroke-linecap="round"/>
<line x1="1777.9" y1="1376.7" x2="1777.9" y2="1408.7" stroke="#1cc81c" stroke-width="23.2" stroke-linecap="round"/>
<circle cx="1777.9" cy="1522.8" r="11.6" fill="#1cc81c"/>
<line x1="1777.9" y1="1568.3" x2="1777.9" y2="1577.4" stroke="#1cc81c" stroke-width="23.2" stroke-linecap="round"/>
<line x1="1777.9" y1="1638.2" x2="1777.9" y2="1647.3" stroke="#1cc81c" stroke-width="23.2" stroke-linecap="round"/>
<circle cx="1777.9" cy="1677.6" r="11.6" fill="#1cc81c"/>
<line x1="1777.9" y1="1713.2" x2="1777.9" y2="1719.1" stroke="#1cc81c" stroke-width="23.2" stroke-linecap="round"/>
<circle cx="1801.8" cy="1299.5" r="11.6" fill="#1cc81c"/>
<line x1="1801.8" y1="1271.6" x2="1801.8" y2="1294.2" stroke="#ff0000" stroke-width="23.2" stroke-linecap="round"/>
<circle cx="1801.8" cy="1327.7" r="11.6" fill="#1cc81c"/>
<line x1="1801.8" y1="1367.4" x2="1801.8" y2="1373.3" stroke="#1cc81c" stroke-width="23.2" stroke-linecap="round"/>
<line x1="1801.8" y1="1400.7" x2="1801.8" y2="1431.6" stroke="#1cc81c" stroke-width="23.2" stroke-linecap="round"/>
<circle cx="1801.8" cy="1459.9" r="11.6" fill="#1cc81c"/>
<line x1="1801.8" y1="1490.2" x2="1801.8" y2="1511.8" stroke="#1cc81c" stroke-width="23.2" stroke-linecap="round"/>
<circle cx="1801.8" cy="1576.5" r="11.6" fill="#1cc81c"/>
<circle cx="1801.8" cy="1615.0" r="11.6" fill="#1cc81c"/>
<circle cx="1801.8" cy="1675.6" r="11.6" fill="#1cc81c"/>
<line x1="1801.8" y1="1711.1" x2="1801.8" y2="1742.0" stroke="#1cc81c" stroke-width="23.2" stroke-linecap="round"/>
<line x1="1825.8" y1="1284.1" x2="1825.8" y2="1331.7" stroke="#ff0000" stroke-width="23.2" stroke-linecap="round"/>
<circle cx="1825.8" cy="1264.2" r="11.6" fill="#1cc81c"/>
<circle cx="1825.8" cy="1355.8" r="11.6" fill="#ff0000"/>
<circle cx="1825.8" cy="1363.1" r="11.6" fill="#1cc81c"/>
<circle cx="1825.8" cy="1368.3" r="11.6" fill="#ff0000"/>
<circle cx="1825.8" cy="1373.5" r="11.6" fill="#1cc81c"/>
<circle cx="1825.8" cy="1383.9" r="11.6" fill="#ff0000"/>
<line x1="1825.8" y1="1411.1" x2="1825.8" y2="1440.0" stroke="#1cc81c" stroke-width="23.2" stroke-linecap="round"/>
<circle cx="1825.8" cy="1468.2" r="11.6" fill="#1cc81c"/>
<circle cx="1825.8" cy="1495.3" r="11.6" fill="#1cc81c"/>
<circle cx="1825.8" cy="1538.0" r="11.6" fill="#1cc81c"/>
<circle cx="1825.8" cy="1572.3" r="11.6" fill="#1cc81c"/>
<line x1="1825.8" y1="1602.8" x2="1825.8" y2="1609.8" stroke="#1cc81c" stroke-width="23.2" stroke-linecap="round"/>
<line x1="1825.8" y1="1643.4" x2="1825.8" y2="1654.6" stroke="#1cc81c" stroke-width="23.2" stroke-linecap="round"/>
<line x1="1825.8" y1="1684.0" x2="1825.8" y2="1697.3" stroke="#1cc81c" stroke-width="23.2" stroke-linecap="round"/>
<line x1="1825.8" y1="1774.6" x2="1825.8" y2="1817.0" stroke="#1cc81c" stroke-width="23.2" stroke-linecap="round"/>
<line x1="1849.8" y1="1281.0" x2="1849.8" y2="1327.5" stroke="#ff0000" stroke-width="23.2" stroke-linecap="round"/>
<line x1="1849.8" y1="1357.0" x2="1849.8" y2="1376.4" stroke="#1cc81c" stroke-width="23.2" stroke-linecap="round"/>
<circle cx="1849.8" cy="1401.6" r="11.6" fill="#1cc81c"/>
<circle cx="1849.8" cy="1420.3" r="11.6" fill="#ff0000"/>
<circle cx="1849.8" cy="1457.8" r="11.6" fill="#1cc81c"/>
<line x1="1849.8" y1="1532.9" x2="1849.8" y2="1562.8" stroke="#1cc81c" stroke-width="23.2" stroke-linecap="round"/>
<line x1="1849.8" y1="1591.4" x2="1849.8" y2="1595.2" stroke="#1cc81c" stroke-width="23.2" stroke-linecap="round"/>
<line x1="1849.8" y1="1627.8" x2="1849.8" y2="1631.7" stroke="#1cc81c" stroke-width="23.2" stroke-linecap="round"/>
<circle cx="1849.8" cy="1678.7" r="11.6" fill="#1cc81c"/>
<line x1="1849.8" y1="1712.1" x2="1849.8" y2="1763.9" stroke="#1cc81c" stroke-width="23.2" stroke-linecap="round"/>
<line x1="1849.8" y1="1840.2" x2="1849.8" y2="1869.1" stroke="#1cc81c" stroke-width="23.2" stroke-linecap="round"/>
<line x1="1873.7" y1="1315.3" x2="1873.7" y2="1331.7" stroke="#ff0000" stroke-width="23.2" stroke-linecap="round"/>
<line x1="1873.7" y1="1259.1" x2="1873.7" y2="1268.2" stroke="#1cc81c" stroke-width="23.2" stroke-linecap="round"/>
<circle cx="1873.7" cy="1299.5" r="11.6" fill="#1cc81c"/>
<circle cx="1873.7" cy="1343.3" r="11.6" fill="#1cc81c"/>
<circle cx="1873.7" cy="1390.1" r="11.6" fill="#ff0000"/>
<line x1="1873.7" y1="1396.5" x2="1873.7" y2="1416.0" stroke="#1cc81c" stroke-width="23.2" stroke-linecap="round"/>
<circle cx="1873.7" cy="1453.6" r="11.6" fill="#ff0000"/>
<line x1="1873.7" y1="1473.6" x2="1873.7" y2="1548.4" stroke="#1cc81c" stroke-width="23.2" stroke-linecap="round"/>
<line x1="1873.7" y1="1575.8" x2="1873.7" y2="1622.3" stroke="#1cc81c" stroke-width="23.2" stroke-linecap="round"/>
<line x1="1873.7" y1="1657.0" x2="1873.7" y2="1679.6" stroke="#1cc81c" stroke-width="23.2" stroke-linecap="round"/>
<circle cx="1873.7" cy="1709.9" r="11.6" fill="#1cc81c"/>
<circle cx="1873.7" cy="1734.9" r="11.6" fill="#1cc81c"/>
<circle cx="1873.7" cy="1776.5" r="11.6" fill="#1cc81c"/>
<circle cx="1873.7" cy="1828.6" r="11.6" fill="#1cc81c"/>
<line x1="1873.7" y1="1870.4" x2="1873.7" y2="1918.0" stroke="#1cc81c" stroke-width="23.2" stroke-linecap="round"/>
<line x1="1897.7" y1="1270.5" x2="1897.7" y2="1356.7" stroke="#1cc81c" stroke-width="23.2" stroke-linecap="round"/>
<line x1="1897.7" y1="1394.4" x2="1897.7" y2="1415.0" stroke="#ff0000" stroke-width="23.2" stroke-linecap="round"/>
<line x1="1897.7" y1="1442.3" x2="1897.7" y2="1531.7" stroke="#1cc81c" stroke-width="23.2" stroke-linecap="round"/>
<circle cx="1897.7" cy="1560.0" r="11.6" fill="#1cc81c"/>
<line x1="1897.7" y1="1612.2" x2="1897.7" y2="1647.3" stroke="#1cc81c" stroke-width="23.2" stroke-linecap="round"/>
<line x1="1897.7" y1="1722.6" x2="1897.7" y2="1768.1" stroke="#1cc81c" stroke-width="23.2" stroke-linecap="round"/>
<line x1="1897.7" y1="1795.4" x2="1897.7" y2="1843.0" stroke="#1cc81c" stroke-width="23.2" stroke-linecap="round"/>
<circle cx="1897.7" cy="1908.8" r="11.6" fill="#1cc81c"/>
<circle cx="1897.7" cy="1950.5" r="11.6" fill="#1cc81c"/>
<circle cx="1921.7" cy="1260.0" r="11.6" fill="#ff0000"/>
<circle cx="1921.7" cy="1265.2" r="11.6" fill="#1cc81c"/>
<circle cx="1921.7" cy="1315.2" r="11.6" fill="#ff0000"/>
<circle cx="1921.7" cy="1322.5" r="11.6" fill="#1cc81c"/>
<line x1="1921.7" y1="1350.7" x2="1921.7" y2="1360.8" stroke="#1cc81c" stroke-width="23.2" stroke-linecap="round"/>
<circle cx="1921.7" cy="1383.9" r="11.6" fill="#ff0000"/>
<circle cx="1921.7" cy="1378.7" r="11.6" fill="#1cc81c"/>
<circle cx="1921.7" cy="1450.5" r="11.6" fill="#1cc81c"/>
<line x1="1921.7" y1="1421.5" x2="1921.7" y2="1445.2" stroke="#ff0000" stroke-width="23.2" stroke-linecap="round"/>
<line x1="1921.7" y1="1479.8" x2="1921.7" y2="1489.9" stroke="#ff0000" stroke-width="23.2" stroke-linecap="round"/>
<circle cx="1921.7" cy="1509.9" r="11.6" fill="#1cc81c"/>
<line x1="1921.7" y1="1551.6" x2="1921.7" y2="1619.2" stroke="#1cc81c" stroke-width="23.2" stroke-linecap="round"/>
<circle cx="1921.7" cy="1673.5" r="11.6" fill="#1cc81c"/>
<line x1="1921.7" y1="1716.3" x2="1921.7" y2="1754.5" stroke="#1cc81c" stroke-width="23.2" stroke-linecap="round"/>
<line x1="1921.7" y1="1792.3" x2="1921.7" y2="1824.3" stroke="#1cc81c" stroke-width="23.2" stroke-linecap="round"/>
<line x1="1921.7" y1="1865.2" x2="1921.7" y2="1876.3" stroke="#1cc81c" stroke-width="23.2" stroke-linecap="round"/>
<line x1="1921.7" y1="1903.7" x2="1921.7" y2="1914.9" stroke="#1cc81c" stroke-width="23.2" stroke-linecap="round"/>
<line x1="1921.7" y1="1942.3" x2="1921.7" y2="1992.0" stroke="#1cc81c" stroke-width="23.2" stroke-linecap="round"/>
<circle cx="1945.7" cy="1317.2" r="11.6" fill="#ff0000"/>
<line x1="1945.7" y1="1268.5" x2="1945.7" y2="1296.3" stroke="#1cc81c" stroke-width="23.2" stroke-linecap="round"/>
<line x1="1945.7" y1="1334.1" x2="1945.7" y2="1369.2" stroke="#1cc81c" stroke-width="23.2" stroke-linecap="round"/>
<line x1="1945.7" y1="1399.6" x2="1945.7" y2="1411.8" stroke="#1cc81c" stroke-width="23.2" stroke-linecap="round"/>
<line x1="1945.7" y1="1443.4" x2="1945.7" y2="1452.4" stroke="#1cc81c" stroke-width="23.2" stroke-linecap="round"/>
<line x1="1945.7" y1="1490.2" x2="1945.7" y2="1514.9" stroke="#1cc81c" stroke-width="23.2" stroke-linecap="round"/>
<circle cx="1945.7" cy="1571.3" r="11.6" fill="#ff0000"/>
<line x1="1945.7" y1="1548.5" x2="1945.7" y2="1562.8" stroke="#1cc81c" stroke-width="23.2" stroke-linecap="round"/>
<line x1="1945.7" y1="1619.3" x2="1945.7" y2="1646.3" stroke="#1cc81c" stroke-width="23.2" stroke-linecap="round"/>
<circle cx="1945.7" cy="1601.5" r="11.6" fill="#ff0000"/>
<circle cx="1945.7" cy="1670.3" r="11.6" fill="#1cc81c"/>
<circle cx="1945.7" cy="1696.4" r="11.6" fill="#1cc81c"/>
<line x1="1945.7" y1="1733.0" x2="1945.7" y2="1742.0" stroke="#1cc81c" stroke-width="23.2" stroke-linecap="round"/>
<line x1="1945.7" y1="1768.4" x2="1945.7" y2="1789.9" stroke="#1cc81c" stroke-width="23.2" stroke-linecap="round"/>
<line x1="1945.7" y1="1820.4" x2="1945.7" y2="1858.6" stroke="#1cc81c" stroke-width="23.2" stroke-linecap="round"/>
<circle cx="1945.7" cy="1886.9" r="11.6" fill="#1cc81c"/>
<circle cx="1945.7" cy="1923.3" r="11.6" fill="#1cc81c"/>
<circle cx="1945.7" cy="1960.9" r="11.6" fill="#1cc81c"/>
<circle cx="1945.7" cy="1988.0" r="11.6" fill="#1cc81c"/>
<circle cx="1945.7" cy="2043.2" r="11.6" fill="#1cc81c"/>
<circle cx="1969.6" cy="1376.6" r="11.6" fill="#ff0000"/>
<line x1="1969.6" y1="1344.5" x2="1969.6" y2="1365.0" stroke="#1cc81c" stroke-width="23.2" stroke-linecap="round"/>
<line x1="1969.6" y1="1392.4" x2="1969.6" y2="1406.6" stroke="#1cc81c" stroke-width="23.2" stroke-linecap="round"/>
<circle cx="1969.6" cy="1475.5" r="11.6" fill="#ff0000"/>
<circle cx="1969.6" cy="1484.9" r="11.6" fill="#1cc81c"/>
<circle cx="1969.6" cy="1535.9" r="11.6" fill="#ff0000"/>
<circle cx="1969.6" cy="1650.6" r="11.6" fill="#1cc81c"/>
<circle cx="1969.6" cy="1640.2" r="11.6" fill="#ff0000"/>
<line x1="1969.6" y1="1565.2" x2="1969.6" y2="1627.5" stroke="#1cc81c" stroke-width="23.2" stroke-linecap="round"/>
<circle cx="1969.6" cy="1695.3" r="11.6" fill="#1cc81c"/>
<line x1="1969.6" y1="1722.6" x2="1969.6" y2="1733.7" stroke="#1cc81c" stroke-width="23.2" stroke-linecap="round"/>
<line x1="1969.6" y1="1761.1" x2="1969.6" y2="1789.9" stroke="#1cc81c" stroke-width="23.2" stroke-linecap="round"/>
<line x1="1969.6" y1="1815.2" x2="1969.6" y2="1896.1" stroke="#1cc81c" stroke-width="23.2" stroke-linecap="round"/>
<circle cx="1969.6" cy="1923.3" r="11.6" fill="#1cc81c"/>
<line x1="1969.6" y1="1955.9" x2="1969.6" y2="1996.2" stroke="#1cc81c" stroke-width="23.2" stroke-linecap="round"/>
<line x1="1969.6" y1="2020.4" x2="1969.6" y2="2064.9" stroke="#1cc81c" stroke-width="23.2" stroke-linecap="round"/>
<circle cx="1969.6" cy="2087.4" r="11.6" fill="#1cc81c"/>
<circle cx="1993.6" cy="1296.0" r="11.6" fill="#ff0000"/>
<line x1="1993.6" y1="1519.4" x2="1993.6" y2="1564.9" stroke="#1cc81c" stroke-width="23.2" stroke-linecap="round"/>
<circle cx="1993.6" cy="1589.0" r="11.6" fill="#1cc81c"/>
<circle cx="1993.6" cy="1592.2" r="11.6" fill="#1cc81c"/>
<circle cx="1993.6" cy="1592.3" r="11.6" fill="#1cc81c"/>
<line x1="1993.6" y1="1619.5" x2="1993.6" y2="1708.7" stroke="#1cc81c" stroke-width="23.2" stroke-linecap="round"/>
<circle cx="1993.6" cy="1695.3" r="11.6" fill="#ff0000"/>
<line x1="1993.6" y1="1749.6" x2="1993.6" y2="1772.2" stroke="#1cc81c" stroke-width="23.2" stroke-linecap="round"/>
<line x1="1993.6" y1="1800.6" x2="1993.6" y2="2010.8" stroke="#1cc81c" stroke-width="23.2" stroke-linecap="round"/>
<line x1="1993.6" y1="2037.1" x2="1993.6" y2="2048.2" stroke="#1cc81c" stroke-width="23.2" stroke-linecap="round"/>
<circle cx="1993.6" cy="2084.8" r="11.6" fill="#1cc81c"/>
<circle cx="2017.6" cy="1490.1" r="11.6" fill="#ff0000"/>
<circle cx="2017.6" cy="1536.3" r="11.6" fill="#ff0000"/>
<circle cx="2017.6" cy="1589.0" r="11.6" fill="#ff0000"/>
<circle cx="2017.6" cy="1694.3" r="11.6" fill="#ff0000"/>
<circle cx="2017.6" cy="1687.0" r="11.6" fill="#1cc81c"/>
<line x1="2017.6" y1="1715.3" x2="2017.6" y2="1849.3" stroke="#1cc81c" stroke-width="23.2" stroke-linecap="round"/>
<line x1="2017.6" y1="1881.8" x2="2017.6" y2="2092.0" stroke="#1cc81c" stroke-width="23.2" stroke-linecap="round"/>
<circle cx="2041.5" cy="1356.8" r="11.6" fill="#ff0000"/>
<circle cx="2041.5" cy="1427.6" r="11.6" fill="#ff0000"/>
<circle cx="2041.5" cy="1452.6" r="11.6" fill="#ff0000"/>
<circle cx="2041.5" cy="1561.9" r="11.6" fill="#ff0000"/>
<circle cx="2041.5" cy="1740.5" r="11.6" fill="#ff0000"/>
<line x1="2041.5" y1="1866.2" x2="2041.5" y2="1984.7" stroke="#1cc81c" stroke-width="23.2" stroke-linecap="round"/>
<line x1="2041.5" y1="2023.5" x2="2041.5" y2="2094.0" stroke="#1cc81c" stroke-width="23.2" stroke-linecap="round"/>
<circle cx="2065.5" cy="1276.6" r="11.6" fill="#ff0000"/>
<circle cx="2065.5" cy="1353.7" r="11.6" fill="#ff0000"/>
<circle cx="2065.5" cy="1427.6" r="11.6" fill="#ff0000"/>
<circle cx="2065.5" cy="1452.6" r="11.6" fill="#ff0000"/>
<circle cx="2065.5" cy="1639.1" r="11.6" fill="#ff0000"/>
<circle cx="2065.5" cy="1819.2" r="11.6" fill="#ff0000"/>
<line x1="2065.5" y1="2053.7" x2="2065.5" y2="2093.0" stroke="#1cc81c" stroke-width="23.2" stroke-linecap="round"/>
<text transform="translate(0.0,2208.5) scale(1.154,1)" font-size="50" x="1411.1 1426.7 1450.9 1478.4 1494.1 1526.6 1541.4 1560.4 1589.5 1614.6 1631.6" y="0.0 0.0 0.0 0.0 0.0 14.0 0.0 0.0 0.0 0.0 0.0">log(R<tspan font-size="31.0">e</tspan>[pc])</text>
<text transform="translate(1259.4,1866.3) rotate(-90) scale(1.060,1)" font-size="50" x="-1.6 12.9 36.7 64.6 84.0 102.9 145.1 162.8 188.6 221.6 246.4 271.5 298.0 319.4 339.2" y="0.0 0.0 0.0 0.0 0.0 13.8 0.0 0.0 13.8 0.0 0.0 0.0 -15.1 0.0 0.0">log(I<tspan font-size="31.0">e</tspan>[L<tspan font-family="'DejaVu Sans', sans-serif" font-size="27.9">⊙</tspan>/pc<tspan font-size="27.7">2</tspan>])</text>
<text transform="translate(0.0,85.4) scale(1.090,1)" font-size="37.5" x="197.2 216.7 243.8 264.3 291.2" y="0.0 -3.0 0.0 -3.0 0.0" fill="#ff0000">0<tspan font-family="'DejaVu Sans', sans-serif" font-size="32.2">≦</tspan><tspan font-style="italic">β</tspan><tspan font-family="'DejaVu Sans', sans-serif" font-size="32.2">≦</tspan>4</text>
<text transform="translate(0.0,85.4) scale(1.132,1)" font-size="37.5" x="335.6 359.2 378.4 404.8 424.4 450.8" y="0.0 0.0 -3.0 0.0 -3.0 0.0" fill="#1cc81c">−4<tspan font-family="'DejaVu Sans', sans-serif" font-size="32.2">≦</tspan><tspan font-style="italic">β</tspan><tspan font-family="'DejaVu Sans', sans-serif" font-size="32.2">≦</tspan>0</text>
<text transform="translate(0.0,85.4) scale(1.218,1)" font-size="37.5" x="465.2 483.5 497.4 519.8 539.4 558.3 568.3 587.7 605.9 625.9 649.4 668.0 677.0 696.9 716.2 731.9 750.1" y="0.0 10.8 0.0 0.0 0.0 0.0 0.0 0.0 0.0 0.0 0.0 0.0 0.0 0.0 0.0 0.0 0.0">L<tspan font-size="26.0">0</tspan>=10.346−2.176*<tspan font-style="italic">β</tspan></text>
<text transform="translate(0.0,85.4) scale(1.090,1)" font-size="37.5" x="1267.5 1287.1 1314.1 1334.6 1361.5" y="0.0 -3.0 0.0 -3.0 0.0" fill="#ff0000">0<tspan font-family="'DejaVu Sans', sans-serif" font-size="32.2">≦</tspan><tspan font-style="italic">β</tspan><tspan font-family="'DejaVu Sans', sans-serif" font-size="32.2">≦</tspan>4</text>
<text transform="translate(0.0,85.4) scale(1.132,1)" font-size="37.5" x="1366.6 1390.2 1409.4 1435.8 1455.4 1481.8" y="0.0 0.0 -3.0 0.0 -3.0 0.0" fill="#1cc81c">−4<tspan font-family="'DejaVu Sans', sans-serif" font-size="32.2">≦</tspan><tspan font-style="italic">β</tspan><tspan font-family="'DejaVu Sans', sans-serif" font-size="32.2">≦</tspan>0</text>
<text transform="translate(0.0,85.4) scale(1.218,1)" font-size="37.5" x="1423.0 1441.3 1455.2 1477.6 1497.2 1516.1 1526.1 1545.5 1563.7 1583.7 1607.2 1625.8 1634.8 1654.7 1674.0 1689.8 1707.9" y="0.0 10.8 0.0 0.0 0.0 0.0 0.0 0.0 0.0 0.0 0.0 0.0 0.0 0.0 0.0 0.0 0.0">L<tspan font-size="26.0">0</tspan>=10.346−2.176*<tspan font-style="italic">β</tspan></text>
<text transform="translate(0.0,1240.0) scale(1.153,1)" font-size="37.5" x="186.0 204.2 230.0 249.2 275.4 294.9" y="0.0 -3.0 0.0 -3.0 0.0 0.0" fill="#ff0000">0<tspan font-family="'DejaVu Sans', sans-serif" font-size="32.2">≦</tspan><tspan font-style="italic">β</tspan><tspan font-family="'DejaVu Sans', sans-serif" font-size="32.2">≦</tspan>20</text>
<text transform="translate(0.0,1240.0) scale(1.140,1)" font-size="37.5" x="353.5 377.7 397.8 416.5 442.3 461.7 487.9" y="0.0 0.0 0.0 -3.0 0.0 -3.0 0.0" fill="#1cc81c">−10<tspan font-family="'DejaVu Sans', sans-serif" font-size="32.2">≦</tspan><tspan font-style="italic">β</tspan><tspan font-family="'DejaVu Sans', sans-serif" font-size="32.2">≦</tspan>0</text>
<text transform="translate(0.0,1204.6) scale(1.242,1)" font-size="27.7" x="502.6 515.5 525.6 542.0 555.6 569.8 576.8 590.7 603.9 617.8 634.8 648.3 655.1 668.9 680.9 693.2" y="0.0 8.3 0.0 0.0 0.0 0.0 0.0 0.0 0.0 0.0 0.0 0.0 0.0 0.0 0.0 0.0" fill="#ff0000" stroke="#ff0000" stroke-width="0.35">L<tspan font-size="19.0">0</tspan>=15.046−2.76*<tspan font-style="italic">β</tspan></text>
<text transform="translate(0.0,1239.3) scale(1.211,1)" font-size="27.7" x="515.4 528.6 539.0 555.9 569.6 584.2 591.5 605.8 619.3 633.6 650.7 664.7 672.5 685.9 698.3 710.8" y="0.0 8.3 0.0 0.0 0.0 0.0 0.0 0.0 0.0 0.0 0.0 0.0 0.0 0.0 0.0 0.0" fill="#1cc81c" stroke="#1cc81c" stroke-width="0.35">L<tspan font-size="19.0">0</tspan>=11.046−3.26*<tspan font-style="italic">β</tspan></text>
<text transform="translate(0.0,1240.0) scale(1.153,1)" font-size="37.5" x="1198.2 1216.4 1242.3 1261.4 1287.6 1307.1" y="0.0 -3.0 0.0 -3.0 0.0 0.0" fill="#ff0000">0<tspan font-family="'DejaVu Sans', sans-serif" font-size="32.2">≦</tspan><tspan font-style="italic">β</tspan><tspan font-family="'DejaVu Sans', sans-serif" font-size="32.2">≦</tspan>20</text>
<text transform="translate(0.0,1240.0) scale(1.140,1)" font-size="37.5" x="1377.4 1401.5 1421.7 1440.4 1466.2 1485.6 1511.8" y="0.0 0.0 0.0 -3.0 0.0 -3.0 0.0" fill="#1cc81c">−10<tspan font-family="'DejaVu Sans', sans-serif" font-size="32.2">≦</tspan><tspan font-style="italic">β</tspan><tspan font-family="'DejaVu Sans', sans-serif" font-size="32.2">≦</tspan>0</text>
<text transform="translate(0.0,1204.6) scale(1.211,1)" font-size="27.7" x="1479.1 1492.2 1502.7 1519.5 1533.8 1547.9 1555.2 1569.5 1582.9 1597.2 1614.6 1628.3 1635.6 1649.5 1661.9 1674.5" y="0.0 8.3 0.0 0.0 0.0 0.0 0.0 0.0 0.0 0.0 0.0 0.0 0.0 0.0 0.0 0.0" fill="#ff0000" stroke="#ff0000" stroke-width="0.35">L<tspan font-size="19.0">0</tspan>=12.046−2.16*<tspan font-style="italic">β</tspan></text>
<text transform="translate(0.0,1239.3) scale(1.242,1)" font-size="27.7" x="1442.5 1455.5 1465.5 1482.0 1495.8 1509.7 1516.8 1530.7 1543.8 1557.8 1574.5 1588.2 1595.7 1608.8 1620.9 1633.2" y="0.0 8.3 0.0 0.0 0.0 0.0 0.0 0.0 0.0 0.0 0.0 0.0 0.0 0.0 0.0 0.0" fill="#1cc81c" stroke="#1cc81c" stroke-width="0.35">L<tspan font-size="19.0">0</tspan>=10.046−3.26*<tspan font-style="italic">β</tspan></text>
<text transform="translate(0.0,186.2) scale(1.291,1)" font-size="27.7" x="473.3 481.1 494.2 509.2 517.7 533.9 544.8 562.4 576.2 584.5 597.7 610.8 623.8 631.4 644.6 659.2 667.4 684.7 694.0 704.5 722.4 735.1 742.0 757.3" y="0.0 0.0 0.0 0.0 0.0 0.0 0.0 0.0 0.0 0.0 0.0 0.0 0.0 0.0 0.0 0.0 0.0 8.3 0.0 0.0 0.0 0.0 0.0 0.0" stroke="#000" stroke-width="0.15">log(<tspan font-style="italic">σ</tspan>)=0.14*log(R<tspan font-size="19.0">e</tspan>)+1.72</text>
<text transform="translate(0.0,186.2) scale(1.282,1)" font-size="27.7" x="1386.8 1394.7 1407.9 1423.0 1431.6 1447.9 1458.9 1476.6 1490.4 1497.8 1512.1 1525.3 1538.4 1546.0 1559.3 1574.0 1582.3 1599.7 1609.1 1619.7 1638.0 1651.6 1659.3 1673.3" y="0.0 0.0 0.0 0.0 0.0 0.0 0.0 0.0 0.0 0.0 0.0 0.0 0.0 0.0 0.0 0.0 0.0 8.3 0.0 0.0 0.0 0.0 0.0 0.0" stroke="#000" stroke-width="0.15">log(<tspan font-style="italic">σ</tspan>)=0.64*log(R<tspan font-size="19.0">e</tspan>)−0.04</text>
<text transform="translate(0.0,1341.2) scale(1.277,1)" font-size="27.7" x="478.5 486.4 499.7 514.8 523.5 539.8 550.9 568.7 582.6 589.9 604.3 617.6 630.7 638.4 651.7 666.4 674.8 692.2 701.7 712.3 730.7 744.3 752.1 766.2 780.2" y="0.0 0.0 0.0 0.0 0.0 0.0 0.0 0.0 0.0 0.0 0.0 0.0 0.0 0.0 0.0 0.0 0.0 8.3 0.0 0.0 0.0 0.0 0.0 0.0 0.0" stroke="#000" stroke-width="0.15">log(<tspan font-style="italic">σ</tspan>)=0.64*log(R<tspan font-size="19.0">e</tspan>)−0.046</text>
<text transform="translate(0.0,1341.2) scale(1.277,1)" font-size="27.7" x="1392.3 1400.3 1413.5 1428.7 1437.3 1453.7 1464.7 1482.5 1496.4 1503.8 1518.2 1531.4 1544.5 1552.2 1565.6 1580.3 1588.7 1606.1 1615.5 1626.2 1644.6 1658.2 1666.0 1680.0 1694.1" y="0.0 0.0 0.0 0.0 0.0 0.0 0.0 0.0 0.0 0.0 0.0 0.0 0.0 0.0 0.0 0.0 0.0 8.3 0.0 0.0 0.0 0.0 0.0 0.0 0.0" stroke="#000" stroke-width="0.15">log(<tspan font-style="italic">σ</tspan>)=0.64*log(R<tspan font-size="19.0">e</tspan>)−0.046</text>
</svg>
</body></html>
